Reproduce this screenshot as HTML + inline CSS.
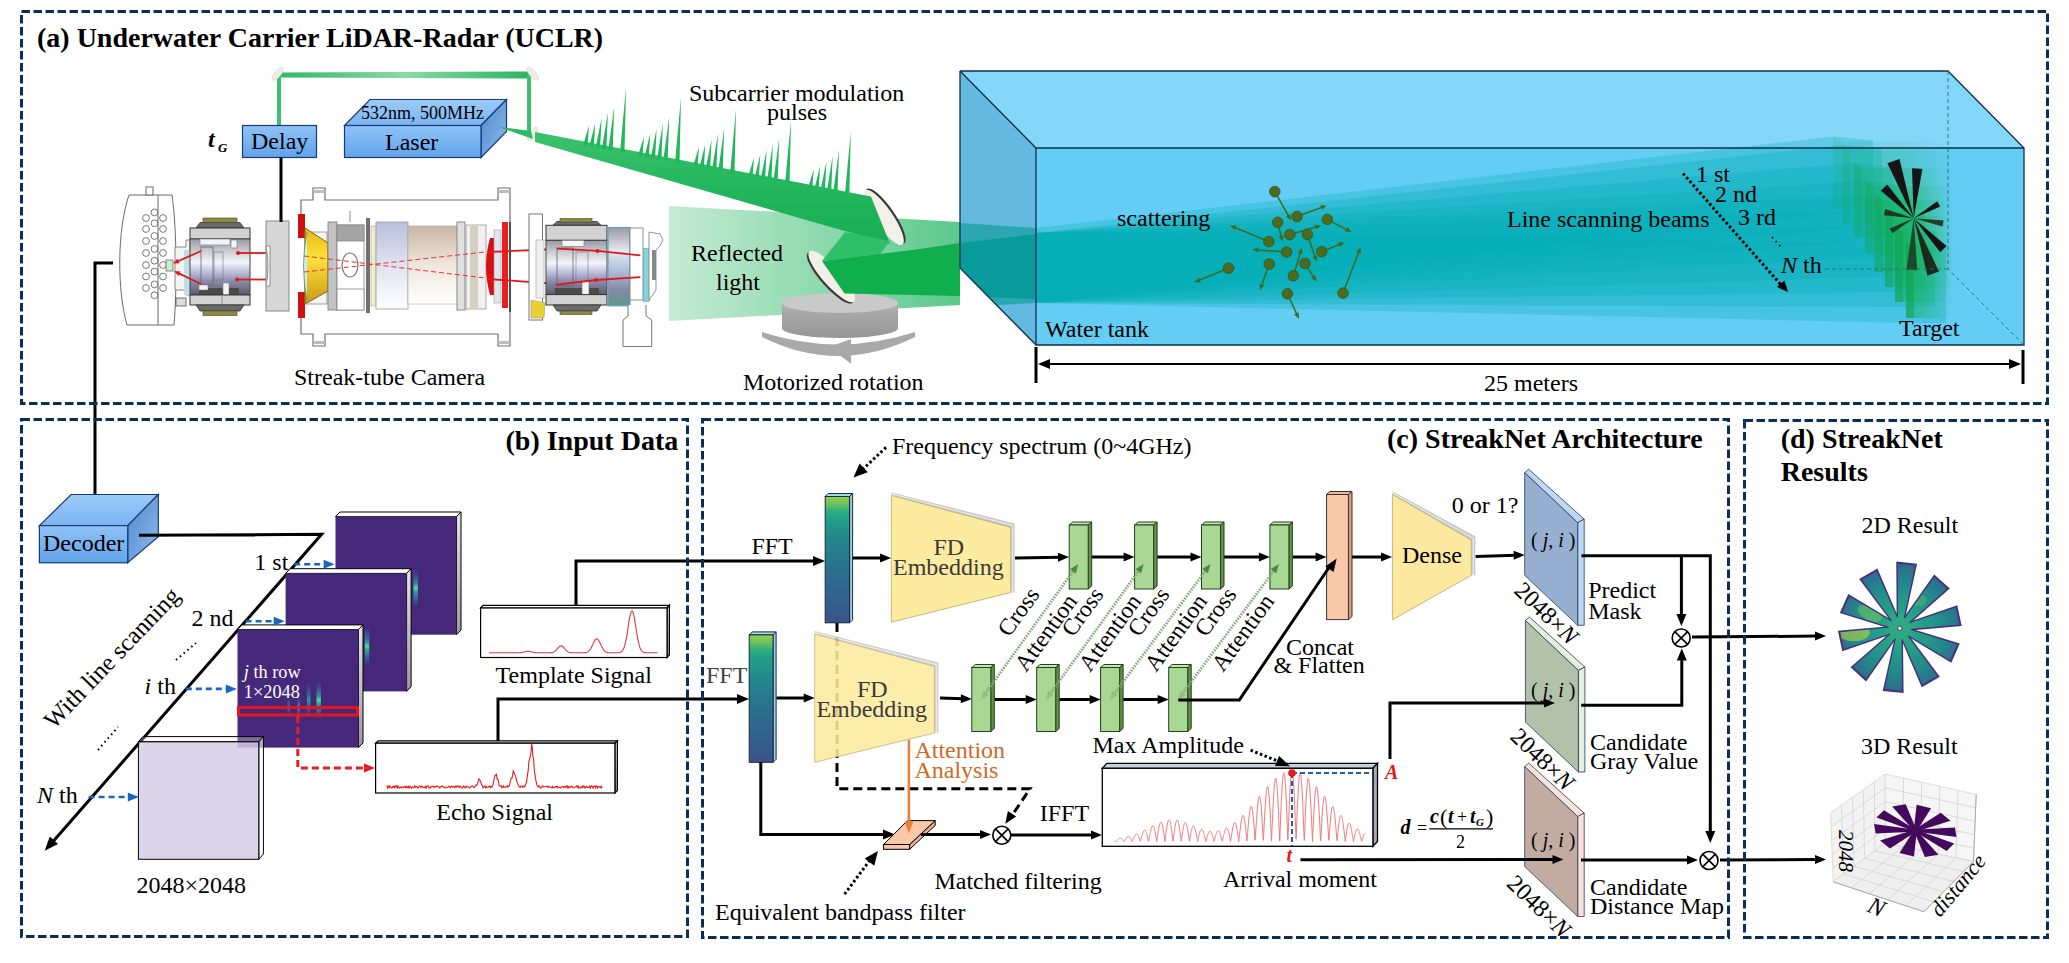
<!DOCTYPE html>
<html><head><meta charset="utf-8"><style>
html,body{margin:0;padding:0;background:#fff;width:2069px;height:963px;overflow:hidden;font-family:"Liberation Serif",serif;}
svg{display:block}
</style></head><body>
<svg width="2069" height="963" viewBox="0 0 2069 963">
<defs>
<linearGradient id="gReflect" x1="0" y1="0" x2="1" y2="0">
  <stop offset="0" stop-color="#c4ebd3"/><stop offset="1" stop-color="#5cc98c"/>
</linearGradient>
<linearGradient id="gBeam" x1="0" y1="0" x2="0" y2="1">
  <stop offset="0" stop-color="#3cc26e"/><stop offset="0.5" stop-color="#22b75c"/><stop offset="1" stop-color="#17ad52"/>
</linearGradient>
<linearGradient id="gLoop" x1="0" y1="0" x2="1" y2="0">
  <stop offset="0" stop-color="#2fb866"/><stop offset="0.5" stop-color="#8ad9a8"/><stop offset="1" stop-color="#2ab45e"/>
</linearGradient>
<linearGradient id="gBlueBox" x1="0" y1="0" x2="0" y2="1">
  <stop offset="0" stop-color="#8fc3f7"/><stop offset="1" stop-color="#63a3ea"/>
</linearGradient>
<linearGradient id="gBlueTop" x1="0" y1="0" x2="0" y2="1">
  <stop offset="0" stop-color="#9ccbf8"/><stop offset="1" stop-color="#7ab4f2"/>
</linearGradient>
<linearGradient id="gBlueSide" x1="0" y1="0" x2="1" y2="1">
  <stop offset="0" stop-color="#4d86c8"/><stop offset="1" stop-color="#8fbdf0"/>
</linearGradient>
<linearGradient id="gPlat" x1="0" y1="0" x2="0" y2="1">
  <stop offset="0" stop-color="#b0b0b0"/><stop offset="1" stop-color="#959595"/>
</linearGradient>
<linearGradient id="gCyl" x1="0" y1="0" x2="0" y2="1">
  <stop offset="0" stop-color="#9a9aa4"/><stop offset="0.2" stop-color="#c8c8d0"/><stop offset="0.42" stop-color="#f4f4fa"/><stop offset="0.55" stop-color="#c8cce4"/><stop offset="0.75" stop-color="#8c8cb0"/><stop offset="1" stop-color="#5a5a60"/>
</linearGradient>
<linearGradient id="gCyl2" x1="0" y1="0" x2="0" y2="1">
  <stop offset="0" stop-color="#9a9aa8"/><stop offset="0.3" stop-color="#e8e8f0"/><stop offset="0.5" stop-color="#b8c8e0"/><stop offset="0.8" stop-color="#8888a8"/><stop offset="1" stop-color="#5a9a88"/>
</linearGradient>
<linearGradient id="gCone" x1="0" y1="0" x2="0" y2="1">
  <stop offset="0" stop-color="#e8b810"/><stop offset="0.4" stop-color="#ffe040"/><stop offset="1" stop-color="#c89a10"/>
</linearGradient>
<linearGradient id="gBeige" x1="0" y1="0" x2="0" y2="1">
  <stop offset="0" stop-color="#c9b6a3"/><stop offset="0.5" stop-color="#efe6dc"/><stop offset="1" stop-color="#ffffff"/>
</linearGradient>
<linearGradient id="gBlueCyl" x1="0" y1="0" x2="0" y2="1">
  <stop offset="0" stop-color="#b8c0dc"/><stop offset="0.5" stop-color="#dfe3f2"/><stop offset="1" stop-color="#ffffff"/>
</linearGradient>
<linearGradient id="gInnerBeam" x1="0" y1="0" x2="0" y2="1">
  <stop offset="0" stop-color="#30bccb"/><stop offset="0.3" stop-color="#14b2bb"/><stop offset="0.7" stop-color="#0aadb5"/><stop offset="1" stop-color="#1ab3be"/>
</linearGradient>
<linearGradient id="gSlab" gradientUnits="userSpaceOnUse" x1="1833" y1="0" x2="1953" y2="0">
  <stop offset="0" stop-color="#18b45a" stop-opacity="1"/><stop offset="0.6" stop-color="#18b45a" stop-opacity="1"/><stop offset="1" stop-color="#18b45a" stop-opacity="0"/>
</linearGradient>

<linearGradient id="gSideGray" x1="0" y1="0" x2="0" y2="1">
  <stop offset="0" stop-color="#e6e6e6"/><stop offset="1" stop-color="#9a9a9a"/>
</linearGradient>
<linearGradient id="gStreak" x1="0" y1="0" x2="0" y2="1">
  <stop offset="0" stop-color="#3a6aa0" stop-opacity="0"/><stop offset="0.3" stop-color="#3a78a0" stop-opacity="0.8"/><stop offset="0.42" stop-color="#2aa890"/><stop offset="0.5" stop-color="#5ad89a"/><stop offset="0.6" stop-color="#2aa890"/><stop offset="0.8" stop-color="#3a78a0" stop-opacity="0.7"/><stop offset="1" stop-color="#3a6aa0" stop-opacity="0"/>
</linearGradient>
<linearGradient id="gStreak2" x1="0" y1="0" x2="0" y2="1">
  <stop offset="0" stop-color="#3a6aa0" stop-opacity="0"/><stop offset="0.35" stop-color="#3a70a0" stop-opacity="0.8"/><stop offset="0.5" stop-color="#2a9a9a"/><stop offset="0.7" stop-color="#3a70a0" stop-opacity="0.7"/><stop offset="1" stop-color="#3a6aa0" stop-opacity="0"/>
</linearGradient>

<linearGradient id="gViridis" x1="0" y1="0" x2="0" y2="1">
  <stop offset="0" stop-color="#8fd14f"/><stop offset="0.06" stop-color="#6cc35c"/><stop offset="0.11" stop-color="#35b07a"/><stop offset="0.16" stop-color="#22a386"/>
  <stop offset="0.32" stop-color="#23898c"/><stop offset="0.55" stop-color="#2a728e"/><stop offset="0.8" stop-color="#33608c"/><stop offset="1" stop-color="#3a548b"/>
</linearGradient>
<linearGradient id="gFD" x1="0" y1="0" x2="1" y2="0">
  <stop offset="0" stop-color="#fdeb9f"/><stop offset="1" stop-color="#fdeea6"/>
</linearGradient>

<radialGradient id="gStar" gradientUnits="userSpaceOnUse" cx="1899.8" cy="628.3" r="66">
  <stop offset="0" stop-color="#35b279"/><stop offset="0.3" stop-color="#24a286"/><stop offset="0.7" stop-color="#22888c"/><stop offset="1" stop-color="#33638d"/>
</radialGradient>
<linearGradient id="gPane" x1="0" y1="0" x2="1" y2="1">
  <stop offset="0" stop-color="#f4f4f4"/><stop offset="1" stop-color="#e6e6e6"/>
</linearGradient>
</defs>
<rect width="2069" height="963" fill="#fff"/>
<text x="37" y="47" font-family="'Liberation Serif', serif" font-size="28" font-weight="bold" font-style="normal" fill="#000" text-anchor="start" >(a) Underwater Carrier LiDAR-Radar (UCLR)</text><polygon points="279.0,72.5 531.0,71.5 531.0,78.5 279.0,77.5" fill="url(#gLoop)" stroke="none" stroke-width="1" /><rect x="277" y="75" width="4" height="50" fill="#3cc070" stroke="none" stroke-width="1" /><rect x="527" y="75" width="4" height="61" fill="#3cc070" stroke="none" stroke-width="1" /><g transform="translate(277.7 73.8) rotate(-50)"><ellipse cx="0" cy="0" rx="8" ry="3.2" fill="#efebe5" stroke="#d8d4ce" stroke-width="0.6"/></g><g transform="translate(532.6 73.8) rotate(50)"><ellipse cx="0" cy="0" rx="8" ry="3.2" fill="#efebe5" stroke="#d8d4ce" stroke-width="0.6"/></g><g transform="translate(532.6 134) rotate(-55)"><ellipse cx="0" cy="0" rx="8" ry="3.2" fill="#efebe5" stroke="#d8d4ce" stroke-width="0.6"/></g><rect x="242.5" y="125.5" width="74" height="32" fill="url(#gBlueBox)" stroke="#173a78" stroke-width="1.2" /><text x="251" y="149" font-family="'Liberation Serif', serif" font-size="24" font-weight="normal" font-style="normal" fill="#000" text-anchor="start" >Delay</text><text x="208" y="147" font-family="'Liberation Serif', serif" font-size="24" font-weight="bold" font-style="italic" fill="#000" text-anchor="start" >t</text><text x="218" y="152" font-family="'Liberation Serif', serif" font-size="13" font-weight="bold" font-style="italic" fill="#000" text-anchor="start" >G</text><polygon points="344.5,125.5 370.0,99.5 506.5,99.5 481.0,125.5" fill="url(#gBlueTop)" stroke="#173a78" stroke-width="1.2" /><polygon points="481.0,125.5 506.5,99.5 506.5,131.5 481.0,157.5" fill="url(#gBlueSide)" stroke="#173a78" stroke-width="1.2" /><rect x="344.5" y="125.5" width="136.5" height="32" fill="url(#gBlueBox)" stroke="#173a78" stroke-width="1.2" /><text x="361" y="118.5" font-family="'Liberation Serif', serif" font-size="18" font-weight="normal" font-style="normal" fill="#000" text-anchor="start" >532nm, 500MHz</text><text x="385" y="149.5" font-family="'Liberation Serif', serif" font-size="24" font-weight="normal" font-style="normal" fill="#000" text-anchor="start" >Laser</text><polygon points="497.0,126.5 531.0,131.0 533.0,139.0" fill="#2fb866" stroke="none" stroke-width="1" /><polygon points="669.0,206.0 960.0,222.0 960.0,305.0 669.0,321.0" fill="url(#gReflect)" stroke="none" stroke-width="1" /><path d="M782,303 L782,328 A58,10 0 0 0 898,328 L898,303 Z" fill="url(#gPlat)"/><ellipse cx="840" cy="303" rx="58" ry="10" fill="#c9c9c9"/><path d="M762,337 Q838,375 915,337 L915,332 Q838,357 762,332 Z" fill="#a9a9a9"/><polygon points="829.0,347.0 851.0,339.0 851.0,363.7" fill="#a9a9a9" stroke="none" stroke-width="1" /><g transform="translate(883.7 217.4) rotate(55.4)"><ellipse cx="0" cy="-2.2" rx="33" ry="9" fill="#3a3a3a"/><ellipse cx="0" cy="0" rx="33" ry="9" fill="#f3efe9"/></g><g transform="translate(831.7 276.5) rotate(48.3)"><ellipse cx="0" cy="2.2" rx="33.5" ry="9" fill="#3a3a3a"/><ellipse cx="0" cy="0" rx="33.5" ry="9" fill="#f3efe9"/></g><polygon points="535.0,132.0 871.0,196.5 890.0,244.0 535.0,142.0" fill="url(#gBeam)" stroke="none" stroke-width="1" /><polygon points="589.0,125.6 583.0,145.4 587.5,145.4" fill="#22b75c" stroke="none" stroke-width="1" /><polygon points="595.3,122.8 589.3,146.6 593.8,146.6" fill="#22b75c" stroke="none" stroke-width="1" /><polygon points="601.6,118.1 595.6,147.8 600.1,147.8" fill="#22b75c" stroke="none" stroke-width="1" /><polygon points="607.9,112.3 601.9,149.0 606.4,149.0" fill="#22b75c" stroke="none" stroke-width="1" /><polygon points="614.2,106.5 608.2,150.2 612.7,150.2" fill="#22b75c" stroke="none" stroke-width="1" /><polygon points="626.0,87.6 620.0,152.5 624.5,152.5" fill="#22b75c" stroke="none" stroke-width="1" /><polygon points="644.0,136.2 638.0,156.0 642.5,156.0" fill="#22b75c" stroke="none" stroke-width="1" /><polygon points="650.3,133.4 644.3,157.2 648.8,157.2" fill="#22b75c" stroke="none" stroke-width="1" /><polygon points="656.6,128.6 650.6,158.4 655.1,158.4" fill="#22b75c" stroke="none" stroke-width="1" /><polygon points="662.9,122.9 656.9,159.6 661.4,159.6" fill="#22b75c" stroke="none" stroke-width="1" /><polygon points="669.2,117.1 663.2,160.8 667.7,160.8" fill="#22b75c" stroke="none" stroke-width="1" /><polygon points="681.0,97.0 675.0,163.1 679.5,163.1" fill="#22b75c" stroke="none" stroke-width="1" /><polygon points="699.0,146.8 693.0,166.6 697.5,166.6" fill="#22b75c" stroke="none" stroke-width="1" /><polygon points="705.3,144.0 699.3,167.8 703.8,167.8" fill="#22b75c" stroke="none" stroke-width="1" /><polygon points="711.6,139.2 705.6,169.0 710.1,169.0" fill="#22b75c" stroke="none" stroke-width="1" /><polygon points="717.9,133.4 711.9,170.2 716.4,170.2" fill="#22b75c" stroke="none" stroke-width="1" /><polygon points="724.2,127.7 718.2,171.4 722.7,171.4" fill="#22b75c" stroke="none" stroke-width="1" /><polygon points="736.0,109.0 730.0,173.7 734.5,173.7" fill="#22b75c" stroke="none" stroke-width="1" /><polygon points="754.0,157.4 748.0,177.2 752.5,177.2" fill="#22b75c" stroke="none" stroke-width="1" /><polygon points="760.3,154.6 754.3,178.4 758.8,178.4" fill="#22b75c" stroke="none" stroke-width="1" /><polygon points="766.6,149.8 760.6,179.6 765.1,179.6" fill="#22b75c" stroke="none" stroke-width="1" /><polygon points="772.9,144.0 766.9,180.8 771.4,180.8" fill="#22b75c" stroke="none" stroke-width="1" /><polygon points="779.2,138.2 773.2,182.0 777.7,182.0" fill="#22b75c" stroke="none" stroke-width="1" /><polygon points="791.0,120.0 785.0,184.3 789.5,184.3" fill="#22b75c" stroke="none" stroke-width="1" /><polygon points="813.8,168.9 807.8,188.7 812.3,188.7" fill="#22b75c" stroke="none" stroke-width="1" /><polygon points="820.1,166.1 814.1,189.9 818.6,189.9" fill="#22b75c" stroke="none" stroke-width="1" /><polygon points="826.4,161.3 820.4,191.1 824.9,191.1" fill="#22b75c" stroke="none" stroke-width="1" /><polygon points="832.7,155.5 826.7,192.3 831.2,192.3" fill="#22b75c" stroke="none" stroke-width="1" /><polygon points="839.0,149.8 833.0,193.5 837.5,193.5" fill="#22b75c" stroke="none" stroke-width="1" /><polygon points="850.8,131.8 844.8,195.8 849.3,195.8" fill="#22b75c" stroke="none" stroke-width="1" /><polygon points="845.0,232.0 890.0,241.0 880.0,254.0 822.0,261.0" fill="#2fbf68" stroke="none" stroke-width="1" /><polygon points="822.0,261.0 920.0,249.0 960.0,243.0 960.0,296.0 844.5,293.4" fill="#10ae4d" stroke="none" stroke-width="1" /><polygon points="960.0,71.0 1948.0,71.0 2024.0,148.0 1036.0,148.0" fill="#85d7f9" stroke="none" stroke-width="1" /><polygon points="1036.0,148.0 2024.0,148.0 2024.0,345.0 1036.0,345.0" fill="#63cdf4" stroke="none" stroke-width="1" /><polygon points="1036.0,228.0 1833.0,136.5 1873.0,140.5 1873.0,213.5 1833.0,213.5 1036.0,303.0" fill="#00acb4" stroke="none" stroke-width="1" fill-opacity="0.28"/><polygon points="1036.0,233.0 1842.0,145.0 1882.0,149.0 1882.0,229.0 1842.0,229.0 1036.0,303.0" fill="#00acb4" stroke="none" stroke-width="1" fill-opacity="0.28"/><polygon points="1036.0,233.0 1854.0,163.0 1894.0,167.0 1894.0,242.0 1854.0,242.0 1036.0,303.0" fill="#00acb4" stroke="none" stroke-width="1" fill-opacity="0.28"/><polygon points="1036.0,233.0 1865.0,181.0 1905.0,185.0 1905.0,258.0 1865.0,258.0 1036.0,303.0" fill="#00acb4" stroke="none" stroke-width="1" fill-opacity="0.28"/><polygon points="1036.0,233.0 1874.5,195.0 1914.5,199.0 1914.5,277.0 1874.5,277.0 1036.0,303.0" fill="#00acb4" stroke="none" stroke-width="1" fill-opacity="0.28"/><polygon points="1036.0,233.0 1885.0,211.0 1925.0,215.0 1925.0,292.0 1885.0,292.0 1036.0,303.0" fill="#00acb4" stroke="none" stroke-width="1" fill-opacity="0.28"/><polygon points="1036.0,233.0 1895.0,227.0 1935.0,231.0 1935.0,307.0 1895.0,307.0 1036.0,303.0" fill="#00acb4" stroke="none" stroke-width="1" fill-opacity="0.28"/><polygon points="1036.0,233.0 1906.0,243.0 1946.0,247.0 1946.0,323.0 1906.0,323.0 1036.0,303.0" fill="#00acb4" stroke="none" stroke-width="1" fill-opacity="0.28"/><polygon points="960.0,71.0 1036.0,148.0 1036.0,345.0 960.0,268.0" fill="#64b9de" stroke="none" stroke-width="1" /><polygon points="960.0,223.0 1036.0,228.0 1036.0,303.0 960.0,307.0" fill="#2aa7b0" stroke="none" stroke-width="1" /><polygon points="960.0,243.0 1036.0,234.0 1036.0,299.0 960.0,296.0" fill="#099b9c" stroke="none" stroke-width="1" /><polygon points="960.0,268.0 1036.0,345.0 960.0,345.0" fill="#fff" stroke="none" stroke-width="1" /><polygon points="1833.0,136.5 1841.0,141.5 1953.0,141.5 1953.0,208.5 1833.0,208.5" fill="url(#gSlab)" stroke="none" stroke-width="1" opacity="0.10"/><polygon points="1833.0,136.5 1841.0,141.5 1841.0,208.5 1833.0,208.5" fill="#0c8a40" stroke="none" stroke-width="1" opacity="0.05"/><polygon points="1842.0,145.0 1850.0,150.0 1953.0,150.0 1953.0,224.0 1842.0,224.0" fill="url(#gSlab)" stroke="none" stroke-width="1" opacity="0.17"/><polygon points="1842.0,145.0 1850.0,150.0 1850.0,224.0 1842.0,224.0" fill="#0c8a40" stroke="none" stroke-width="1" opacity="0.09"/><polygon points="1854.0,163.0 1862.0,168.0 1953.0,168.0 1953.0,237.0 1854.0,237.0" fill="url(#gSlab)" stroke="none" stroke-width="1" opacity="0.25"/><polygon points="1854.0,163.0 1862.0,168.0 1862.0,237.0 1854.0,237.0" fill="#0c8a40" stroke="none" stroke-width="1" opacity="0.12"/><polygon points="1865.0,181.0 1873.0,186.0 1953.0,186.0 1953.0,253.0 1865.0,253.0" fill="url(#gSlab)" stroke="none" stroke-width="1" opacity="0.32"/><polygon points="1865.0,181.0 1873.0,186.0 1873.0,253.0 1865.0,253.0" fill="#0c8a40" stroke="none" stroke-width="1" opacity="0.16"/><polygon points="1874.5,195.0 1882.5,200.0 1953.0,200.0 1953.0,272.0 1874.5,272.0" fill="url(#gSlab)" stroke="none" stroke-width="1" opacity="0.40"/><polygon points="1874.5,195.0 1882.5,200.0 1882.5,272.0 1874.5,272.0" fill="#0c8a40" stroke="none" stroke-width="1" opacity="0.20"/><polygon points="1885.0,211.0 1893.0,216.0 1953.0,216.0 1953.0,287.0 1885.0,287.0" fill="url(#gSlab)" stroke="none" stroke-width="1" opacity="0.47"/><polygon points="1885.0,211.0 1893.0,216.0 1893.0,287.0 1885.0,287.0" fill="#0c8a40" stroke="none" stroke-width="1" opacity="0.24"/><polygon points="1895.0,227.0 1903.0,232.0 1953.0,232.0 1953.0,302.0 1895.0,302.0" fill="url(#gSlab)" stroke="none" stroke-width="1" opacity="0.55"/><polygon points="1895.0,227.0 1903.0,232.0 1903.0,302.0 1895.0,302.0" fill="#0c8a40" stroke="none" stroke-width="1" opacity="0.27"/><polygon points="1906.0,243.0 1914.0,248.0 1953.0,248.0 1953.0,318.0 1906.0,318.0" fill="url(#gSlab)" stroke="none" stroke-width="1" opacity="0.62"/><polygon points="1906.0,243.0 1914.0,248.0 1914.0,318.0 1906.0,318.0" fill="#0c8a40" stroke="none" stroke-width="1" opacity="0.31"/><polygon points="1913.7,218.3 1899.5,159.0 1887.4,163.2" fill="#151515" stroke="none" stroke-width="1" /><polygon points="1913.7,218.3 1922.4,169.1 1912.0,168.3" fill="#151515" stroke="none" stroke-width="1" /><polygon points="1913.7,218.3 1940.2,206.5 1937.2,201.3" fill="#151515" stroke="none" stroke-width="1" /><polygon points="1913.7,218.3 1942.5,226.6 1943.6,220.4" fill="#2a3a2a" stroke="none" stroke-width="1" /><polygon points="1913.7,218.3 1940.2,252.2 1946.6,245.9" fill="#151515" stroke="none" stroke-width="1" /><polygon points="1913.7,218.3 1927.4,275.7 1939.0,271.6" fill="#1c2a1c" stroke="none" stroke-width="1" /><polygon points="1913.7,218.3 1906.5,269.8 1917.3,270.2" fill="#1a4a2a" stroke="none" stroke-width="1" /><polygon points="1913.7,218.3 1889.8,228.5 1892.4,233.2" fill="#1a3a22" stroke="none" stroke-width="1" /><polygon points="1913.7,218.3 1885.2,209.0 1883.9,215.2" fill="#1a3a22" stroke="none" stroke-width="1" /><polygon points="1913.7,218.3 1887.2,184.4 1880.8,190.7" fill="#151515" stroke="none" stroke-width="1" /><polygon points="1830.0,130.0 1930.0,130.0 1948.0,148.0 1830.0,148.0" fill="none" stroke="none" stroke-width="1" /><polyline points="960.0,71.0 1948.0,71.0 2024.0,148.0 2024.0,345.0 1036.0,345.0 960.0,268.0 960.0,71.0" fill="none" stroke="#122e4c" stroke-width="1.3" /><polyline points="960.0,71.0 1036.0,148.0 2024.0,148.0" fill="none" stroke="#122e4c" stroke-width="1.3" /><line x1="1036" y1="148" x2="1036" y2="345" stroke="#122e4c" stroke-width="1.3" /><polyline points="1948.0,71.0 1948.0,269.0 2024.0,345.0" fill="none" stroke="#2a6a8a" stroke-width="0.9" stroke-dasharray="4,3"/><line x1="1825" y1="269" x2="1948" y2="269" stroke="#2a6a8a" stroke-width="0.9" stroke-dasharray="4,3"/><polyline points="1274.8,191.6 1288.7,216.4" fill="none" stroke="#3f6a1e" stroke-width="1.5" /><polygon points="1291.0,220.6 1285.9,216.6 1290.3,214.1" fill="#3f6a1e" stroke="none" stroke-width="1" /><polyline points="1297.0,216.5 1322.3,207.1" fill="none" stroke="#3f6a1e" stroke-width="1.5" /><polygon points="1326.8,205.4 1322.1,209.8 1320.3,205.2" fill="#3f6a1e" stroke="none" stroke-width="1" /><polyline points="1327.3,219.4 1347.1,229.8" fill="none" stroke="#3f6a1e" stroke-width="1.5" /><polygon points="1351.4,232.0 1344.9,231.4 1347.2,227.0" fill="#3f6a1e" stroke="none" stroke-width="1" /><polyline points="1277.7,222.3 1281.3,236.9" fill="none" stroke="#3f6a1e" stroke-width="1.5" /><polygon points="1282.5,241.6 1278.6,236.4 1283.5,235.2" fill="#3f6a1e" stroke="none" stroke-width="1" /><polyline points="1289.8,234.6 1316.6,226.8" fill="none" stroke="#3f6a1e" stroke-width="1.5" /><polygon points="1321.2,225.5 1316.1,229.6 1314.7,224.8" fill="#3f6a1e" stroke="none" stroke-width="1" /><polyline points="1307.4,234.4 1315.2,257.2" fill="none" stroke="#3f6a1e" stroke-width="1.5" /><polygon points="1316.8,261.7 1312.5,256.8 1317.2,255.2" fill="#3f6a1e" stroke="none" stroke-width="1" /><polyline points="1268.8,241.6 1234.4,227.3" fill="none" stroke="#3f6a1e" stroke-width="1.5" /><polygon points="1230.0,225.5 1236.5,225.5 1234.6,230.1" fill="#3f6a1e" stroke="none" stroke-width="1" /><polyline points="1286.6,252.0 1257.1,249.9" fill="none" stroke="#3f6a1e" stroke-width="1.5" /><polygon points="1252.3,249.6 1258.5,247.5 1258.1,252.5" fill="#3f6a1e" stroke="none" stroke-width="1" /><polyline points="1321.7,251.6 1340.1,244.2" fill="none" stroke="#3f6a1e" stroke-width="1.5" /><polygon points="1344.6,242.4 1340.0,247.0 1338.1,242.3" fill="#3f6a1e" stroke="none" stroke-width="1" /><polyline points="1269.2,264.1 1261.6,285.5" fill="none" stroke="#3f6a1e" stroke-width="1.5" /><polygon points="1260.0,290.0 1259.7,283.5 1264.4,285.2" fill="#3f6a1e" stroke="none" stroke-width="1" /><polyline points="1305.0,263.4 1313.8,277.4" fill="none" stroke="#3f6a1e" stroke-width="1.5" /><polygon points="1316.4,281.5 1311.1,277.8 1315.3,275.1" fill="#3f6a1e" stroke="none" stroke-width="1" /><polyline points="1293.4,275.7 1300.5,252.3" fill="none" stroke="#3f6a1e" stroke-width="1.5" /><polygon points="1301.9,247.7 1302.5,254.2 1297.8,252.7" fill="#3f6a1e" stroke="none" stroke-width="1" /><polyline points="1228.6,268.2 1198.7,280.4" fill="none" stroke="#3f6a1e" stroke-width="1.5" /><polygon points="1194.3,282.2 1198.9,277.6 1200.8,282.2" fill="#3f6a1e" stroke="none" stroke-width="1" /><polyline points="1287.4,293.8 1297.0,314.6" fill="none" stroke="#3f6a1e" stroke-width="1.5" /><polygon points="1299.0,319.0 1294.2,314.6 1298.8,312.5" fill="#3f6a1e" stroke="none" stroke-width="1" /><polyline points="1343.0,293.1 1358.9,251.7" fill="none" stroke="#3f6a1e" stroke-width="1.5" /><polygon points="1360.6,247.2 1360.8,253.7 1356.1,251.9" fill="#3f6a1e" stroke="none" stroke-width="1" /><circle cx="1274.8" cy="191.6" r="5.3" fill="#4a6b20" stroke="#3a5518" stroke-width="0.8"/><circle cx="1297" cy="216.5" r="5.3" fill="#4a6b20" stroke="#3a5518" stroke-width="0.8"/><circle cx="1327.3" cy="219.4" r="5.3" fill="#4a6b20" stroke="#3a5518" stroke-width="0.8"/><circle cx="1277.7" cy="222.3" r="5.3" fill="#4a6b20" stroke="#3a5518" stroke-width="0.8"/><circle cx="1289.8" cy="234.6" r="5.3" fill="#4a6b20" stroke="#3a5518" stroke-width="0.8"/><circle cx="1307.4" cy="234.4" r="5.3" fill="#4a6b20" stroke="#3a5518" stroke-width="0.8"/><circle cx="1268.8" cy="241.6" r="5.3" fill="#4a6b20" stroke="#3a5518" stroke-width="0.8"/><circle cx="1286.6" cy="252" r="5.3" fill="#4a6b20" stroke="#3a5518" stroke-width="0.8"/><circle cx="1321.7" cy="251.6" r="5.3" fill="#4a6b20" stroke="#3a5518" stroke-width="0.8"/><circle cx="1269.2" cy="264.1" r="5.3" fill="#4a6b20" stroke="#3a5518" stroke-width="0.8"/><circle cx="1305" cy="263.4" r="5.3" fill="#4a6b20" stroke="#3a5518" stroke-width="0.8"/><circle cx="1293.4" cy="275.7" r="5.3" fill="#4a6b20" stroke="#3a5518" stroke-width="0.8"/><circle cx="1228.6" cy="268.2" r="5.3" fill="#4a6b20" stroke="#3a5518" stroke-width="0.8"/><circle cx="1287.4" cy="293.8" r="5.3" fill="#4a6b20" stroke="#3a5518" stroke-width="0.8"/><circle cx="1343" cy="293.1" r="5.3" fill="#4a6b20" stroke="#3a5518" stroke-width="0.8"/><line x1="1683" y1="173.5" x2="1782" y2="286" stroke="#000" stroke-width="3" stroke-dasharray="2.5,2.5"/><polygon points="1788.0,292.0 1777.0,287.0 1784.5,280.4" fill="#000" stroke="none" stroke-width="1" /><line x1="1772" y1="237" x2="1782" y2="248" stroke="#000" stroke-width="1.8" stroke-dasharray="1.5,4"/><path d="M129,195 L172,195 C177,230 177,290 174,325 L127,325 C117,290 117,230 129,195 Z" fill="#fff" stroke="#6a6a6a" stroke-width="1"/><rect x="146" y="187" width="7" height="8" fill="#fff" stroke="#6a6a6a" stroke-width="1" /><line x1="158" y1="195" x2="158" y2="325" stroke="#6a6a6a" stroke-width="1" /><circle cx="154.5" cy="212.4" r="3.4" fill="none" stroke="#6a6a6a" stroke-width="0.9"/><circle cx="154.5" cy="223.3" r="3.4" fill="none" stroke="#6a6a6a" stroke-width="0.9"/><circle cx="154.5" cy="236" r="3.4" fill="none" stroke="#6a6a6a" stroke-width="0.9"/><circle cx="154.5" cy="248.9" r="3.4" fill="none" stroke="#6a6a6a" stroke-width="0.9"/><circle cx="154.5" cy="260.7" r="3.4" fill="none" stroke="#6a6a6a" stroke-width="0.9"/><circle cx="154.5" cy="271.6" r="3.4" fill="none" stroke="#6a6a6a" stroke-width="0.9"/><circle cx="154.5" cy="284.4" r="3.4" fill="none" stroke="#6a6a6a" stroke-width="0.9"/><circle cx="154.5" cy="295.2" r="3.4" fill="none" stroke="#6a6a6a" stroke-width="0.9"/><circle cx="146" cy="218" r="3.4" fill="none" stroke="#6a6a6a" stroke-width="0.9"/><circle cx="163" cy="218" r="3.4" fill="none" stroke="#6a6a6a" stroke-width="0.9"/><circle cx="146" cy="229" r="3.4" fill="none" stroke="#6a6a6a" stroke-width="0.9"/><circle cx="163" cy="229" r="3.4" fill="none" stroke="#6a6a6a" stroke-width="0.9"/><circle cx="146" cy="241" r="3.4" fill="none" stroke="#6a6a6a" stroke-width="0.9"/><circle cx="163" cy="241" r="3.4" fill="none" stroke="#6a6a6a" stroke-width="0.9"/><circle cx="146" cy="253" r="3.4" fill="none" stroke="#6a6a6a" stroke-width="0.9"/><circle cx="163" cy="253" r="3.4" fill="none" stroke="#6a6a6a" stroke-width="0.9"/><circle cx="146" cy="265" r="3.4" fill="none" stroke="#6a6a6a" stroke-width="0.9"/><circle cx="163" cy="265" r="3.4" fill="none" stroke="#6a6a6a" stroke-width="0.9"/><circle cx="146" cy="276.5" r="3.4" fill="none" stroke="#6a6a6a" stroke-width="0.9"/><circle cx="163" cy="276.5" r="3.4" fill="none" stroke="#6a6a6a" stroke-width="0.9"/><circle cx="146" cy="288" r="3.4" fill="none" stroke="#6a6a6a" stroke-width="0.9"/><circle cx="163" cy="288" r="3.4" fill="none" stroke="#6a6a6a" stroke-width="0.9"/><path d="M175,247 L186,247 L186,240 L190,240 L190,295 L186,295 L186,290 L175,290 Z" fill="#f4f4f4" stroke="#6a6a6a" stroke-width="0.8"/><rect x="184" y="250" width="6" height="45" fill="#bfe0e4" stroke="none" stroke-width="1" /><rect x="166" y="260" width="7" height="11" fill="#c8f0c8" stroke="#6a6a6a" stroke-width="0.8" /><polygon points="196.0,228.0 200.0,222.5 240.0,222.5 244.0,228.0" fill="#6a6a6a" stroke="#333" stroke-width="0.8" /><rect x="203" y="218" width="34" height="4.5" fill="#8c8c3c" stroke="#444" stroke-width="0.6" /><rect x="190" y="228" width="60" height="11" fill="#d2d2d2" stroke="#333" stroke-width="1" /><rect x="190" y="239" width="60" height="56" fill="url(#gCyl)" stroke="#444" stroke-width="1" /><rect x="200" y="239" width="30" height="6" fill="#f4f4f4" stroke="#777" stroke-width="0.6" /><rect x="231" y="240" width="6" height="8" fill="#f4f4f4" stroke="#777" stroke-width="0.6" /><rect x="201" y="247" width="12" height="38" fill="none" stroke="#666" stroke-width="0.8" /><rect x="214" y="252" width="9" height="28" fill="none" stroke="#777" stroke-width="0.6" /><rect x="199" y="288" width="40" height="7" fill="#4a4a4a" stroke="none" stroke-width="1" /><rect x="199" y="285" width="9" height="5" fill="#f4f4f4" stroke="#777" stroke-width="0.5" /><rect x="223" y="283" width="6" height="12" fill="#f4f4f4" stroke="#777" stroke-width="0.5" /><rect x="190" y="295" width="60" height="10" fill="#d2d2d2" stroke="#333" stroke-width="1" /><line x1="222" y1="295" x2="222" y2="305" stroke="#888" stroke-width="0.8" /><polygon points="196.0,305.0 200.0,311.0 240.0,311.0 244.0,305.0" fill="#6a6a6a" stroke="#333" stroke-width="0.8" /><rect x="203" y="311" width="34" height="4.5" fill="#8c8c3c" stroke="#444" stroke-width="0.6" /><rect x="176" y="298" width="10" height="8" fill="#ddd" stroke="#555" stroke-width="0.8" /><polyline points="201.0,251.0 177.4,261.5" fill="none" stroke="#e01818" stroke-width="1.8" /><polygon points="173.0,263.5 177.5,258.8 179.5,263.3" fill="#e01818" stroke="none" stroke-width="1" /><polyline points="201.0,284.0 178.3,273.1" fill="none" stroke="#e01818" stroke-width="1.8" /><polygon points="174.0,271.0 180.5,271.4 178.3,275.9" fill="#e01818" stroke="none" stroke-width="1" /><line x1="238" y1="253" x2="266" y2="253" stroke="#e01818" stroke-width="1.8" /><line x1="238" y1="279.5" x2="266" y2="279.5" stroke="#e01818" stroke-width="1.8" /><circle cx="238" cy="253" r="2" fill="#e01818"/><circle cx="237" cy="279.5" r="2" fill="#e01818"/><rect x="266" y="221" width="23" height="90" fill="#d6d6d6" stroke="#8a8a8a" stroke-width="1" /><path d="M266,246 Q270,266 266,286 L270,286 L270,246 Z" fill="#fff" stroke="#777" stroke-width="0.8"/><polyline points="301.0,218.0 301.0,200.0 313.0,200.0 313.0,188.0 325.0,188.0 325.0,200.0 498.0,200.0 498.0,188.0 510.0,188.0 510.0,346.0 498.0,346.0 498.0,334.0 325.0,334.0 325.0,346.0 313.0,346.0 313.0,334.0 301.0,334.0 301.0,316.0" fill="#fff" stroke="#707070" stroke-width="1.2" /><rect x="498" y="190" width="12" height="3" fill="#bbb" stroke="none" stroke-width="1" /><rect x="313" y="190" width="12" height="3" fill="#bbb" stroke="none" stroke-width="1" /><rect x="313" y="341" width="12" height="3" fill="#bbb" stroke="none" stroke-width="1" /><rect x="498" y="341" width="12" height="3" fill="#bbb" stroke="none" stroke-width="1" /><rect x="298" y="214" width="7" height="24" fill="#d01010" stroke="none" stroke-width="1" /><rect x="298" y="292" width="7" height="26" fill="#d01010" stroke="none" stroke-width="1" /><rect x="305" y="232" width="22" height="72" fill="#f4f4f4" stroke="#888" stroke-width="0.8" /><polygon points="305.0,228.0 328.0,243.0 328.0,291.0 305.0,304.0" fill="url(#gCone)" stroke="#7a6a10" stroke-width="1" /><path d="M307,232 Q300,266 307,300" fill="#c8f0e0" stroke="#5a8a70" stroke-width="0.8"/><rect x="328" y="222" width="9" height="88" fill="#c4c4c4" stroke="#777" stroke-width="0.8" /><rect x="337" y="225" width="27" height="85" fill="#fff" stroke="#888" stroke-width="0.8" /><rect x="337" y="225" width="27" height="16" fill="#a4a4a4" stroke="#888" stroke-width="0.8" /><rect x="337" y="289" width="27" height="21" fill="#fff" stroke="#888" stroke-width="0.8" /><ellipse cx="350" cy="265" rx="8" ry="12" fill="none" stroke="#777" stroke-width="1.2"/><line x1="350" y1="211" x2="350" y2="222" stroke="#888" stroke-width="1" /><rect x="366" y="218" width="4" height="95" fill="#707070" stroke="none" stroke-width="1" /><rect x="371" y="226" width="5" height="80" fill="#f0ecc8" stroke="#aaa" stroke-width="0.6" /><rect x="376" y="222" width="32" height="87" fill="url(#gBlueCyl)" stroke="#999" stroke-width="0.8" /><rect x="408" y="226" width="50" height="78" fill="url(#gBeige)" stroke="#aaa" stroke-width="0.6" /><rect x="457" y="222" width="8" height="88" fill="#e0e0e0" stroke="#888" stroke-width="1" /><rect x="466" y="225" width="20" height="84" fill="#f0f0f0" stroke="#999" stroke-width="0.8" /><rect x="470" y="225" width="8" height="84" fill="#d8cfc4" stroke="none" stroke-width="1" /><path d="M490,238 Q482,266 490,295 L494,295 L494,238 Z" fill="#d81010"/><rect x="494" y="230" width="7" height="73" fill="#dde6f0" stroke="#999" stroke-width="0.6" /><rect x="502" y="222" width="6" height="86" fill="#e82020" stroke="none" stroke-width="1" /><line x1="510" y1="222" x2="510" y2="312" stroke="#111" stroke-width="1.2" /><line x1="304" y1="256" x2="485" y2="278" stroke="#e83030" stroke-width="1" stroke-dasharray="5,3"/><line x1="304" y1="272" x2="485" y2="252" stroke="#e83030" stroke-width="1" stroke-dasharray="5,3"/><line x1="488" y1="252" x2="557" y2="249" stroke="#e01818" stroke-width="1.8" /><line x1="488" y1="279" x2="557" y2="284" stroke="#e01818" stroke-width="1.8" /><rect x="529" y="214" width="13.5" height="106" fill="#fff" stroke="#777" stroke-width="1" /><rect x="536" y="240" width="8" height="58" fill="#f0f0f0" stroke="#999" stroke-width="0.6" /><path d="M531,300 L545,303 L544,318 L531,318 Z" fill="#e8d030" stroke="#999" stroke-width="0.6"/><polygon points="553.0,225.3 557.0,221.5 597.0,221.5 601.0,225.3" fill="#6a6a6a" stroke="#333" stroke-width="0.8" /><rect x="560" y="218.5" width="32" height="3.5" fill="#8c8c3c" stroke="#444" stroke-width="0.6" /><rect x="546" y="225.3" width="61" height="15" fill="#d2d2d2" stroke="#333" stroke-width="1" /><rect x="546" y="240.4" width="61" height="54.2" fill="url(#gCyl)" stroke="#444" stroke-width="1" /><rect x="562" y="240.4" width="22" height="6" fill="#f4f4f4" stroke="#777" stroke-width="0.6" /><rect x="557" y="248" width="16" height="38" fill="none" stroke="#666" stroke-width="0.8" /><rect x="576" y="252" width="12" height="30" fill="none" stroke="#777" stroke-width="0.6" /><rect x="555" y="288" width="44" height="7" fill="#4a4a4a" stroke="none" stroke-width="1" /><rect x="582" y="281" width="7" height="14" fill="#f4f4f4" stroke="#777" stroke-width="0.6" /><rect x="546" y="294.6" width="61" height="10.4" fill="#d2d2d2" stroke="#333" stroke-width="1" /><polygon points="553.0,305.0 557.0,311.0 597.0,311.0 601.0,305.0" fill="#6a6a6a" stroke="#333" stroke-width="0.8" /><rect x="560" y="311" width="32" height="3.5" fill="#8c8c3c" stroke="#444" stroke-width="0.6" /><rect x="608" y="227.6" width="22" height="78.2" fill="url(#gCyl2)" stroke="#6aa0c8" stroke-width="1.3" /><rect x="630" y="228" width="13" height="72" fill="#fff" stroke="#777" stroke-width="0.8" /><rect x="643.4" y="248.6" width="6" height="52.7" fill="#86d4dc" stroke="#5a9aa8" stroke-width="0.6" /><path d="M649,232 L660,234 L663,240 L660,246 L656,250 L656,290 L649,300 Z" fill="#fff" stroke="#777" stroke-width="0.8"/><rect x="652" y="250" width="4" height="30" fill="#888" stroke="none" stroke-width="1" /><polyline points="628.0,305.0 628.0,316.0 623.0,320.0 623.0,346.5 651.7,346.5 651.7,320.0 646.0,316.0 646.0,305.0" fill="#fff" stroke="#777" stroke-width="1" /><line x1="557" y1="248.6" x2="597.5" y2="250.9" stroke="#e01818" stroke-width="1.8" /><line x1="555.4" y1="284.8" x2="596" y2="280" stroke="#e01818" stroke-width="1.8" /><line x1="597.5" y1="250.9" x2="640.4" y2="255.4" stroke="#e01818" stroke-width="1.8" /><line x1="596" y1="280" x2="640.4" y2="277.2" stroke="#e01818" stroke-width="1.8" /><circle cx="597.5" cy="251" r="2" fill="#e01818"/><circle cx="596" cy="280" r="2" fill="#e01818"/><polyline points="113.0,263.0 95.0,263.0 95.0,509.0" fill="none" stroke="#000" stroke-width="3" /><line x1="281" y1="157.5" x2="281" y2="222" stroke="#000" stroke-width="3" /><text x="689" y="100.5" font-family="'Liberation Serif', serif" font-size="24" font-weight="normal" font-style="normal" fill="#000" text-anchor="start" >Subcarrier modulation</text><text x="767" y="119.5" font-family="'Liberation Serif', serif" font-size="24" font-weight="normal" font-style="normal" fill="#000" text-anchor="start" >pulses</text><text x="691" y="260.5" font-family="'Liberation Serif', serif" font-size="24" font-weight="normal" font-style="normal" fill="#000" text-anchor="start" >Reflected</text><text x="716" y="289.5" font-family="'Liberation Serif', serif" font-size="24" font-weight="normal" font-style="normal" fill="#000" text-anchor="start" >light</text><text x="743" y="390" font-family="'Liberation Serif', serif" font-size="24" font-weight="normal" font-style="normal" fill="#000" text-anchor="start" >Motorized rotation</text><text x="294" y="385" font-family="'Liberation Serif', serif" font-size="24" font-weight="normal" font-style="normal" fill="#000" text-anchor="start" >Streak-tube Camera</text><text x="1117" y="225.5" font-family="'Liberation Serif', serif" font-size="24" font-weight="normal" font-style="normal" fill="#000" text-anchor="start" >scattering</text><text x="1045" y="336.5" font-family="'Liberation Serif', serif" font-size="24" font-weight="normal" font-style="normal" fill="#000" text-anchor="start" >Water tank</text><text x="1507" y="226.7" font-family="'Liberation Serif', serif" font-size="24" font-weight="normal" font-style="normal" fill="#000" text-anchor="start" >Line scanning beams</text><text x="1696" y="182" font-family="'Liberation Serif', serif" font-size="24" font-weight="normal" font-style="normal" fill="#000" text-anchor="start" >1 st</text><text x="1715" y="202.3" font-family="'Liberation Serif', serif" font-size="24" font-weight="normal" font-style="normal" fill="#000" text-anchor="start" >2 nd</text><text x="1738" y="225.3" font-family="'Liberation Serif', serif" font-size="24" font-weight="normal" font-style="normal" fill="#000" text-anchor="start" >3 rd</text><text x="1781" y="272.5" font-family="'Liberation Serif', serif" font-size="24" font-weight="normal" font-style="normal" fill="#000" text-anchor="start" ><tspan font-style="italic">N</tspan> th</text><text x="1899" y="336" font-family="'Liberation Serif', serif" font-size="24" font-weight="normal" font-style="normal" fill="#000" text-anchor="start" >Target</text><text x="1484" y="391.4" font-family="'Liberation Serif', serif" font-size="24" font-weight="normal" font-style="normal" fill="#000" text-anchor="start" >25 meters</text><line x1="1036" y1="347" x2="1036" y2="383" stroke="#000" stroke-width="3" /><line x1="2023" y1="350" x2="2023" y2="384" stroke="#000" stroke-width="3" /><line x1="1048" y1="364" x2="2012" y2="364" stroke="#000" stroke-width="2" /><polygon points="1038.0,364.0 1050.0,359.0 1050.0,369.0" fill="#000" stroke="none" stroke-width="1" /><polygon points="2021.0,364.0 2009.0,369.0 2009.0,359.0" fill="#000" stroke="none" stroke-width="1" /><text x="505.5" y="449.8" font-family="'Liberation Serif', serif" font-size="28" font-weight="bold" font-style="normal" fill="#000" text-anchor="start" >(b) Input Data</text><polygon points="39.4,525.6 71.1,494.5 158.3,494.5 127.7,525.6" fill="url(#gBlueTop)" stroke="#173a78" stroke-width="1.2" /><polygon points="127.7,525.6 158.3,494.5 158.3,536.8 127.7,562.8" fill="url(#gBlueSide)" stroke="#173a78" stroke-width="1.2" /><rect x="39.4" y="525.6" width="88.3" height="37.2" fill="url(#gBlueBox)" stroke="#173a78" stroke-width="1.2" /><text x="43" y="551" font-family="'Liberation Serif', serif" font-size="24" font-weight="normal" font-style="normal" fill="#000" text-anchor="start" >Decoder</text><polyline points="139.0,535.3 321.6,534.3 50.0,845.0" fill="none" stroke="#000" stroke-width="3" /><polygon points="44.7,850.8 49.8,836.6 58.0,843.9" fill="#000" stroke="none" stroke-width="1" /><g ><polygon points="335.5,516.7 340.0,512.0 461.0,512.0 456.5,516.7" fill="#fff" stroke="#000" stroke-width="1" /><polygon points="456.5,516.7 461.0,512.0 461.0,630.0 456.5,634.7" fill="url(#gSideGray)" stroke="#000" stroke-width="1" /><rect x="335.5" y="516.7" width="121" height="118" fill="#46287a" stroke="none" stroke-width="1" /></g><rect x="413.5" y="569" width="4.4" height="38" rx="2.2" fill="url(#gStreak)"/><g ><polygon points="285.6,573.4 290.1,568.7 411.1,568.7 406.6,573.4" fill="#fff" stroke="#000" stroke-width="1" /><polygon points="406.6,573.4 411.1,568.7 411.1,686.7 406.6,691.4" fill="url(#gSideGray)" stroke="#000" stroke-width="1" /><rect x="285.6" y="573.4" width="121" height="118" fill="#46287a" stroke="none" stroke-width="1" /></g><rect x="364.8" y="627" width="4.4" height="38" rx="2.2" fill="url(#gStreak)"/><g ><polygon points="237.5,629.6 242.0,624.9 363.0,624.9 358.5,629.6" fill="#fff" stroke="#000" stroke-width="1" /><polygon points="358.5,629.6 363.0,624.9 363.0,742.9 358.5,747.6" fill="url(#gSideGray)" stroke="#000" stroke-width="1" /><rect x="237.5" y="629.6" width="121" height="118" fill="#46287a" stroke="none" stroke-width="1" /></g><rect x="316.5" y="681" width="4.4" height="38" rx="2.2" fill="url(#gStreak)"/><rect x="306.9" y="682" width="3.6" height="36" rx="1.8" fill="url(#gStreak2)"/><rect x="297.2" y="697" width="3.0" height="20" rx="1.5" fill="url(#gStreak2)"/><rect x="287.5" y="699" width="2.4" height="16" rx="1.2" fill="url(#gStreak2)"/><text x="243.8" y="678.2" font-family="'Liberation Serif', serif" font-size="18.3" font-weight="normal" font-style="normal" fill="#fff" text-anchor="start" ><tspan font-style="italic">j</tspan> th row</text><text x="243.8" y="698.4" font-family="'Liberation Serif', serif" font-size="18.3" font-weight="normal" font-style="normal" fill="#fff" text-anchor="start" >1×2048</text><rect x="238.5" y="707.5" width="119" height="7.5" fill="none" stroke="#e8141c" stroke-width="3" /><polygon points="138.4,741.8 143.0,736.6 263.4,736.6 258.8,741.8" fill="#ffffff" stroke="#000" stroke-width="1" fill-opacity="0.3"/><polygon points="258.8,741.8 263.4,736.6 263.4,854.0 258.8,859.3" fill="#ffffff" stroke="#000" stroke-width="1" fill-opacity="0.6"/><rect x="138.4" y="741.8" width="120.4" height="117.5" fill="#d6cde4" stroke="#000" stroke-width="1" fill-opacity="0.85"/><polyline points="297.8,716.0 297.8,767.9 366.0,767.9" fill="none" stroke="#e81c24" stroke-width="3" stroke-dasharray="7,4"/><polygon points="375.0,767.9 364.0,772.4 364.0,763.4" fill="#e81c24" stroke="none" stroke-width="1" /><line x1="294.2" y1="564.2" x2="325.6" y2="564.2" stroke="#1a64c4" stroke-width="2.6" stroke-dasharray="6,4"/><polygon points="334.6,564.2 323.6,568.7 323.6,559.7" fill="#1a64c4" stroke="none" stroke-width="1" /><line x1="245.6" y1="621.3" x2="275.7" y2="621.3" stroke="#1a64c4" stroke-width="2.6" stroke-dasharray="6,4"/><polygon points="284.7,621.3 273.7,625.8 273.7,616.8" fill="#1a64c4" stroke="none" stroke-width="1" /><line x1="185.8" y1="688.9" x2="227.8" y2="688.9" stroke="#1a64c4" stroke-width="2.6" stroke-dasharray="6,4"/><polygon points="236.8,688.9 225.8,693.4 225.8,684.4" fill="#1a64c4" stroke="none" stroke-width="1" /><line x1="88.6" y1="797" x2="129.8" y2="797" stroke="#1a64c4" stroke-width="2.6" stroke-dasharray="6,4"/><polygon points="138.8,797.0 127.8,801.5 127.8,792.5" fill="#1a64c4" stroke="none" stroke-width="1" /><text x="254.3" y="570.2" font-family="'Liberation Serif', serif" font-size="24" font-weight="normal" font-style="normal" fill="#000" text-anchor="start" >1 st</text><text x="191.5" y="625.8" font-family="'Liberation Serif', serif" font-size="24" font-weight="normal" font-style="normal" fill="#000" text-anchor="start" >2 nd</text><text x="144.6" y="694.4" font-family="'Liberation Serif', serif" font-size="24" font-weight="normal" font-style="normal" fill="#000" text-anchor="start" ><tspan font-style="italic">i</tspan> th</text><text x="37" y="803.3" font-family="'Liberation Serif', serif" font-size="24" font-weight="normal" font-style="normal" fill="#000" text-anchor="start" ><tspan font-style="italic">N</tspan> th</text><text x="136.5" y="892.6" font-family="'Liberation Serif', serif" font-size="24" font-weight="normal" font-style="normal" fill="#000" text-anchor="start" >2048×2048</text><text x="54" y="730" font-family="'Liberation Serif', serif" font-size="24.5" font-weight="normal" font-style="normal" fill="#000" text-anchor="start" transform="rotate(-46.3 54 730)" >With line scanning</text><line x1="176" y1="660" x2="196" y2="643" stroke="#000" stroke-width="2" stroke-dasharray="1.6,3.4"/><line x1="98" y1="750" x2="118" y2="727" stroke="#000" stroke-width="2" stroke-dasharray="1.6,3.4"/><polygon points="480.6,608.0 483.0,605.4 669.4,605.4 667.0,608.0" fill="#fff" stroke="#000" stroke-width="1.2" /><polygon points="667.0,608.0 669.4,605.4 669.4,654.9 667.0,657.5" fill="url(#gSideGray)" stroke="#000" stroke-width="1.2" /><rect x="480.6" y="608" width="186.4" height="49.5" fill="#fff" stroke="#000" stroke-width="1.2" /><polyline points="489.0,652.8 489.8,652.8 490.7,652.8 491.5,652.8 492.4,652.8 493.2,652.8 494.1,652.8 494.9,652.8 495.7,652.8 496.6,652.8 497.4,652.8 498.3,652.8 499.1,652.8 500.0,652.8 500.8,652.8 501.6,652.8 502.5,652.8 503.3,652.8 504.2,652.8 505.0,652.8 505.9,652.8 506.7,652.8 507.5,652.8 508.4,652.8 509.2,652.8 510.1,652.8 510.9,652.8 511.8,652.8 512.6,652.8 513.4,652.8 514.3,652.8 515.1,652.8 516.0,652.8 516.8,652.8 517.7,652.8 518.5,652.8 519.3,652.7 520.2,652.7 521.0,652.6 521.9,652.5 522.7,652.3 523.6,652.1 524.4,651.9 525.2,651.7 526.1,651.5 526.9,651.4 527.8,651.3 528.6,651.3 529.5,651.4 530.3,651.6 531.1,651.8 532.0,652.0 532.8,652.2 533.7,652.4 534.5,652.5 535.4,652.6 536.2,652.7 537.1,652.7 537.9,652.8 538.7,652.8 539.6,652.8 540.4,652.8 541.3,652.8 542.1,652.8 543.0,652.8 543.8,652.8 544.6,652.8 545.5,652.8 546.3,652.8 547.2,652.8 548.0,652.8 548.9,652.8 549.7,652.8 550.5,652.7 551.4,652.6 552.2,652.5 553.1,652.2 553.9,651.9 554.8,651.3 555.6,650.6 556.4,649.8 557.3,648.8 558.1,647.8 559.0,646.9 559.8,646.2 560.7,645.8 561.5,645.9 562.3,646.3 563.2,647.0 564.0,647.9 564.9,649.0 565.7,649.9 566.6,650.8 567.4,651.4 568.2,651.9 569.1,652.3 569.9,652.5 570.8,652.6 571.6,652.7 572.5,652.8 573.3,652.8 574.1,652.8 575.0,652.8 575.8,652.8 576.7,652.8 577.5,652.8 578.4,652.8 579.2,652.8 580.0,652.8 580.9,652.8 581.7,652.8 582.6,652.8 583.4,652.8 584.3,652.7 585.1,652.6 585.9,652.5 586.8,652.3 587.6,651.9 588.5,651.4 589.3,650.6 590.2,649.5 591.0,648.2 591.8,646.6 592.7,644.8 593.5,643.0 594.4,641.3 595.2,639.9 596.1,639.1 596.9,638.8 597.7,639.2 598.6,640.2 599.4,641.7 600.3,643.4 601.1,645.2 602.0,647.0 602.8,648.5 603.6,649.8 604.5,650.8 605.3,651.5 606.2,652.0 607.0,652.4 607.9,652.6 608.7,652.7 609.5,652.7 610.4,652.8 611.2,652.8 612.1,652.8 612.9,652.8 613.8,652.8 614.6,652.8 615.5,652.8 616.3,652.8 617.1,652.8 618.0,652.7 618.8,652.7 619.7,652.5 620.5,652.3 621.4,651.8 622.2,651.1 623.0,649.8 623.9,648.1 624.7,645.5 625.6,642.1 626.4,637.9 627.3,632.9 628.1,627.4 628.9,622.0 629.8,617.1 630.6,613.3 631.5,611.2 632.3,610.9 633.2,612.6 634.0,616.0 634.8,620.6 635.7,626.0 636.5,631.5 637.4,636.6 638.2,641.1 639.1,644.7 639.9,647.5 640.7,649.4 641.6,650.8 642.4,651.6 643.3,652.2 644.1,652.5 645.0,652.6 645.8,652.7 646.6,652.8 647.5,652.8 648.3,652.8 649.2,652.8 650.0,652.8 650.9,652.8 651.7,652.8 652.5,652.8 653.4,652.8 654.2,652.8 655.1,652.8 655.9,652.8 656.8,652.8 657.6,652.8" fill="none" stroke="#e03a3a" stroke-width="1.1" /><text x="495.6" y="682.7" font-family="'Liberation Serif', serif" font-size="24" font-weight="normal" font-style="normal" fill="#000" text-anchor="start" >Template Signal</text><polygon points="375.6,743.2 378.1,740.8 617.4,740.8 614.9,743.2" fill="#fff" stroke="#000" stroke-width="1.2" /><polygon points="614.9,743.2 617.4,740.8 617.4,790.6 614.9,793.0" fill="url(#gSideGray)" stroke="#000" stroke-width="1.2" /><rect x="375.6" y="743.2" width="239.3" height="49.8" fill="#fff" stroke="#000" stroke-width="1.2" /><polyline points="386.5,786.4 387.2,786.0 387.8,788.2 388.5,786.2 389.2,787.4 389.9,785.9 390.5,787.5 391.2,788.0 391.9,788.1 392.6,786.7 393.2,787.4 393.9,786.2 394.6,787.5 395.3,786.0 395.9,786.8 396.6,785.9 397.3,787.9 398.0,786.0 398.6,787.3 399.3,788.1 400.0,787.3 400.7,787.0 401.3,788.1 402.0,787.2 402.7,787.3 403.4,787.6 404.0,786.4 404.7,786.6 405.4,787.7 406.1,786.3 406.7,787.5 407.4,786.9 408.1,787.9 408.8,786.3 409.4,787.7 410.1,786.5 410.8,786.8 411.5,788.1 412.1,788.0 412.8,787.0 413.5,787.2 414.2,787.5 414.8,785.8 415.5,787.1 416.2,786.4 416.9,786.3 417.5,788.0 418.2,787.9 418.9,786.8 419.6,786.1 420.2,786.0 420.9,787.4 421.6,786.1 422.3,786.2 422.9,787.7 423.6,787.5 424.3,787.1 425.0,787.9 425.6,786.4 426.3,787.9 427.0,786.0 427.7,785.9 428.3,785.9 429.0,787.8 429.7,787.6 430.4,788.0 431.0,786.4 431.7,786.7 432.4,786.0 433.1,786.2 433.7,787.0 434.4,787.6 435.1,786.2 435.8,786.4 436.4,786.8 437.1,785.9 437.8,786.6 438.5,787.2 439.1,787.0 439.8,788.1 440.5,787.4 441.1,786.4 441.8,786.4 442.5,786.0 443.2,787.2 443.8,787.0 444.5,787.1 445.2,787.9 445.9,787.7 446.5,787.7 447.2,787.1 447.9,787.4 448.6,786.2 449.2,786.1 449.9,787.4 450.6,787.5 451.3,786.4 451.9,786.4 452.6,787.1 453.3,786.4 454.0,786.2 454.6,787.6 455.3,787.1 456.0,785.9 456.7,787.1 457.3,786.5 458.0,785.8 458.7,786.9 459.4,787.4 460.0,786.1 460.7,786.4 461.4,787.9 462.1,788.0 462.7,788.0 463.4,786.1 464.1,787.0 464.8,786.5 465.4,788.0 466.1,787.2 466.8,786.1 467.5,786.8 468.1,787.0 468.8,787.5 469.5,788.1 470.2,787.3 470.8,786.5 471.5,786.4 472.2,786.0 472.9,785.9 473.5,787.4 474.2,787.7 474.9,787.0 475.6,785.5 476.2,784.7 476.9,785.3 477.6,782.7 478.3,781.5 478.9,778.9 479.6,779.2 480.3,781.3 481.0,782.9 481.6,784.6 482.3,785.4 483.0,787.9 483.7,787.2 484.3,786.0 485.0,786.3 485.7,787.8 486.4,786.6 487.0,787.2 487.7,787.5 488.4,787.1 489.1,786.3 489.7,786.0 490.4,787.8 491.1,786.5 491.8,786.8 492.4,786.5 493.1,784.1 493.8,780.6 494.4,777.7 495.1,775.2 495.8,775.4 496.5,774.5 497.1,779.1 497.8,779.1 498.5,781.5 499.2,785.8 499.8,786.0 500.5,786.1 501.2,785.8 501.9,787.7 502.5,787.0 503.2,785.8 503.9,787.4 504.6,787.0 505.2,787.1 505.9,786.9 506.6,786.7 507.3,785.7 507.9,787.1 508.6,786.0 509.3,785.9 510.0,783.2 510.6,780.0 511.3,777.9 512.0,778.2 512.7,774.6 513.3,770.2 514.0,772.5 514.7,774.3 515.4,775.7 516.0,777.8 516.7,781.2 517.4,782.5 518.1,784.8 518.7,785.7 519.4,786.8 520.1,787.6 520.8,786.2 521.4,786.3 522.1,786.0 522.8,787.4 523.5,786.6 524.1,786.1 524.8,786.8 525.5,784.4 526.2,783.3 526.8,780.3 527.5,775.3 528.2,770.3 528.9,761.4 529.5,759.8 530.2,756.4 530.9,753.8 531.6,743.9 532.2,746.7 532.9,756.4 533.6,758.7 534.3,770.6 534.9,774.0 535.6,779.0 536.3,782.3 537.0,785.2 537.6,786.3 538.3,787.1 539.0,785.6 539.7,786.2 540.3,788.1 541.0,787.9 541.7,787.6 542.4,785.9 543.0,786.3 543.7,786.8 544.4,786.7 545.1,786.7 545.7,786.6 546.4,786.4 547.1,786.2 547.8,787.3 548.4,787.0 549.1,786.3 549.8,787.0 550.4,787.2 551.1,787.1 551.8,787.8 552.5,786.5 553.1,787.8 553.8,787.6 554.5,787.5 555.2,786.6 555.8,786.8 556.5,786.3 557.2,788.0 557.9,786.5 558.5,786.9 559.2,787.2 559.9,787.7 560.6,787.6 561.2,787.6 561.9,786.7 562.6,786.8 563.3,786.7 563.9,787.6 564.6,786.7 565.3,786.3 566.0,787.6 566.6,786.2 567.3,785.8 568.0,788.2 568.7,786.5 569.3,786.6 570.0,787.7 570.7,786.9 571.4,786.0 572.0,786.5 572.7,787.2 573.4,787.6 574.1,787.7 574.7,787.3 575.4,786.7 576.1,786.4 576.8,785.8 577.4,787.4 578.1,786.1 578.8,788.1 579.5,787.6 580.1,787.0 580.8,788.0 581.5,786.9 582.2,786.4 582.8,787.6 583.5,785.9 584.2,786.2 584.9,787.9 585.5,787.6 586.2,786.3 586.9,787.5 587.6,787.0 588.2,787.5 588.9,787.5 589.6,786.1 590.3,788.0 590.9,786.8 591.6,785.8 592.3,786.5 593.0,788.1 593.6,786.3 594.3,786.5 595.0,786.0 595.7,788.0 596.3,785.9 597.0,786.3 597.7,788.0 598.4,786.4 599.0,786.6 599.7,787.1 600.4,787.7 601.1,786.2 601.7,787.8 602.4,787.1" fill="none" stroke="#e02020" stroke-width="1.1" /><text x="436.3" y="819.8" font-family="'Liberation Serif', serif" font-size="24" font-weight="normal" font-style="normal" fill="#000" text-anchor="start" >Echo Signal</text><polyline points="576.0,605.0 576.0,561.0 815.0,561.0" fill="none" stroke="#000" stroke-width="3" /><polygon points="825.0,561.0 813.0,566.0 813.0,556.0" fill="#000" stroke="none" stroke-width="1" /><polyline points="498.0,741.0 498.0,699.0 739.0,699.0" fill="none" stroke="#000" stroke-width="3" /><polygon points="749.0,699.0 737.0,704.0 737.0,694.0" fill="#000" stroke="none" stroke-width="1" /><text x="1387" y="448.4" font-family="'Liberation Serif', serif" font-size="28" font-weight="bold" font-style="normal" fill="#000" text-anchor="start" >(c) StreakNet Architecture</text><text x="891.9" y="454.3" font-family="'Liberation Serif', serif" font-size="24" font-weight="normal" font-style="normal" fill="#000" text-anchor="start" >Frequency spectrum (0~4GHz)</text><line x1="886" y1="447.4" x2="862" y2="470" stroke="#000" stroke-width="3" stroke-dasharray="2.5,2.5"/><polygon points="853.5,477.5 859.6,463.6 867.8,472.3" fill="#000" stroke="none" stroke-width="1" /><polyline points="837.0,623.0 837.0,788.7 1030.0,788.7 1011.0,817.0" fill="none" stroke="#000" stroke-width="3" stroke-dasharray="9,5"/><polygon points="1005.3,823.8 1007.9,811.1 1016.2,816.6" fill="#000" stroke="none" stroke-width="1" /><polygon points="825.2,496.5 828.2,493.5 852.6,493.5 849.6,496.5" fill="#a8d6f0" stroke="#1a2a3a" stroke-width="1" /><polygon points="849.6,496.5 852.6,493.5 852.6,619.8 849.6,622.8" fill="#9fd0ee" stroke="#1a2a3a" stroke-width="1" /><rect x="825.2" y="496.5" width="24.4" height="126.3" fill="url(#gViridis)" stroke="#1a2a3a" stroke-width="1" /><polygon points="749.2,634.9 752.2,631.9 776.1,631.9 773.1,634.9" fill="#a8d6f0" stroke="#1a2a3a" stroke-width="1" /><polygon points="773.1,634.9 776.1,631.9 776.1,759.3 773.1,762.3" fill="#9fd0ee" stroke="#1a2a3a" stroke-width="1" /><rect x="749.2" y="634.9" width="23.9" height="127.4" fill="url(#gViridis)" stroke="#1a2a3a" stroke-width="1" /><g ><polygon points="891.4,492.4 1014.6,523.4 1014.6,592.5 1010.6,592.5 1010.6,527.4 891.4,495.4" fill="#c8c8c8" stroke="none" stroke-width="1" /><polygon points="891.4,493.9 1012.6,525.4 1012.6,592.5" fill="none" stroke="#f0f0f0" stroke-width="1" /><polygon points="891.4,495.4 1010.6,527.4 1010.6,592.5 891.4,622.1" fill="#fdeba0" stroke="#b8a868" stroke-width="0.8" /></g><text x="933.4" y="554.8" font-family="'Liberation Serif', serif" font-size="24" font-weight="normal" font-style="normal" fill="#3a3a3a" text-anchor="start" >FD</text><text x="893" y="575.3" font-family="'Liberation Serif', serif" font-size="24" font-weight="normal" font-style="normal" fill="#3a3a3a" text-anchor="start" >Embedding</text><g opacity="0.88"><polygon points="814.7,631.0 938.4,662.5 938.4,733.0 934.4,733.0 934.4,666.5 814.7,634.0" fill="#c8c8c8" stroke="none" stroke-width="1" /><polygon points="814.7,632.5 936.4,664.5 936.4,733.0" fill="none" stroke="#f0f0f0" stroke-width="1" /><polygon points="814.7,634.0 934.4,666.5 934.4,733.0 814.7,762.3" fill="#fdeba0" stroke="#b8a868" stroke-width="0.8" /></g><text x="857" y="697" font-family="'Liberation Serif', serif" font-size="24" font-weight="normal" font-style="normal" fill="#3a3a3a" text-anchor="start" >FD</text><text x="816.4" y="717" font-family="'Liberation Serif', serif" font-size="24" font-weight="normal" font-style="normal" fill="#3a3a3a" text-anchor="start" >Embedding</text><text x="751.4" y="554.3" font-family="'Liberation Serif', serif" font-size="24" font-weight="normal" font-style="normal" fill="#000" text-anchor="start" >FFT</text><text x="706" y="683.1" font-family="'Liberation Serif', serif" font-size="24" font-weight="normal" font-style="normal" fill="#444" text-anchor="start" >FFT</text><polyline points="852.6,558.0 882.2,558.0" fill="none" stroke="#000" stroke-width="3" /><polygon points="891.0,558.0 880.0,562.5 880.0,553.5" fill="#000" stroke="none" stroke-width="1" /><polyline points="776.5,698.0 805.9,698.0" fill="none" stroke="#000" stroke-width="3" /><polygon points="814.7,698.0 803.7,702.5 803.7,693.5" fill="#000" stroke="none" stroke-width="1" /><polyline points="1015.0,558.0 1060.2,557.2" fill="none" stroke="#000" stroke-width="3" /><polygon points="1069.0,557.0 1058.1,561.7 1057.9,552.7" fill="#000" stroke="none" stroke-width="1" /><polyline points="1091.7,557.0 1125.8,557.0" fill="none" stroke="#000" stroke-width="3" /><polygon points="1134.6,557.0 1123.6,561.5 1123.6,552.5" fill="#000" stroke="none" stroke-width="1" /><polyline points="1157.1,557.0 1192.7,557.0" fill="none" stroke="#000" stroke-width="3" /><polygon points="1201.5,557.0 1190.5,561.5 1190.5,552.5" fill="#000" stroke="none" stroke-width="1" /><polyline points="1224.0,557.0 1261.1,557.0" fill="none" stroke="#000" stroke-width="3" /><polygon points="1269.9,557.0 1258.9,561.5 1258.9,552.5" fill="#000" stroke="none" stroke-width="1" /><polyline points="1292.4,557.0 1317.8,557.0" fill="none" stroke="#000" stroke-width="3" /><polygon points="1326.6,557.0 1315.6,561.5 1315.6,552.5" fill="#000" stroke="none" stroke-width="1" /><polyline points="940.0,698.0 963.0,698.7" fill="none" stroke="#000" stroke-width="3" /><polygon points="971.8,699.0 960.7,703.2 960.9,694.2" fill="#000" stroke="none" stroke-width="1" /><polyline points="994.3,699.5 1027.9,699.5" fill="none" stroke="#000" stroke-width="3" /><polygon points="1036.7,699.5 1025.7,704.0 1025.7,695.0" fill="#000" stroke="none" stroke-width="1" /><polyline points="1059.2,699.5 1091.8,699.5" fill="none" stroke="#000" stroke-width="3" /><polygon points="1100.6,699.5 1089.6,704.0 1089.6,695.0" fill="#000" stroke="none" stroke-width="1" /><polyline points="1123.1,699.5 1159.9,699.5" fill="none" stroke="#000" stroke-width="3" /><polygon points="1168.7,699.5 1157.7,704.0 1157.7,695.0" fill="#000" stroke="none" stroke-width="1" /><polygon points="1069.2,525.0 1072.7,522.0 1091.7,522.0 1088.2,525.0" fill="#c4e6b4" stroke="#24421a" stroke-width="1" /><polygon points="1088.2,525.0 1091.7,522.0 1091.7,586.0 1088.2,589.0" fill="#62924a" stroke="#24421a" stroke-width="1" /><rect x="1069.2" y="525" width="19" height="64" fill="#a9d895" stroke="#24421a" stroke-width="1" /><polygon points="1134.6,525.0 1138.1,522.0 1157.1,522.0 1153.6,525.0" fill="#c4e6b4" stroke="#24421a" stroke-width="1" /><polygon points="1153.6,525.0 1157.1,522.0 1157.1,586.0 1153.6,589.0" fill="#62924a" stroke="#24421a" stroke-width="1" /><rect x="1134.6" y="525" width="19" height="64" fill="#a9d895" stroke="#24421a" stroke-width="1" /><polygon points="1201.5,525.0 1205.0,522.0 1224.0,522.0 1220.5,525.0" fill="#c4e6b4" stroke="#24421a" stroke-width="1" /><polygon points="1220.5,525.0 1224.0,522.0 1224.0,586.0 1220.5,589.0" fill="#62924a" stroke="#24421a" stroke-width="1" /><rect x="1201.5" y="525" width="19" height="64" fill="#a9d895" stroke="#24421a" stroke-width="1" /><polygon points="1269.9,525.0 1273.4,522.0 1292.4,522.0 1288.9,525.0" fill="#c4e6b4" stroke="#24421a" stroke-width="1" /><polygon points="1288.9,525.0 1292.4,522.0 1292.4,586.0 1288.9,589.0" fill="#62924a" stroke="#24421a" stroke-width="1" /><rect x="1269.9" y="525" width="19" height="64" fill="#a9d895" stroke="#24421a" stroke-width="1" /><polygon points="971.8,667.5 975.3,664.5 994.3,664.5 990.8,667.5" fill="#c4e6b4" stroke="#24421a" stroke-width="1" /><polygon points="990.8,667.5 994.3,664.5 994.3,728.5 990.8,731.5" fill="#62924a" stroke="#24421a" stroke-width="1" /><rect x="971.8" y="667.5" width="19" height="64" fill="#a9d895" stroke="#24421a" stroke-width="1" /><polygon points="1036.7,667.5 1040.2,664.5 1059.2,664.5 1055.7,667.5" fill="#c4e6b4" stroke="#24421a" stroke-width="1" /><polygon points="1055.7,667.5 1059.2,664.5 1059.2,728.5 1055.7,731.5" fill="#62924a" stroke="#24421a" stroke-width="1" /><rect x="1036.7" y="667.5" width="19" height="64" fill="#a9d895" stroke="#24421a" stroke-width="1" /><polygon points="1100.6,667.5 1104.1,664.5 1123.1,664.5 1119.6,667.5" fill="#c4e6b4" stroke="#24421a" stroke-width="1" /><polygon points="1119.6,667.5 1123.1,664.5 1123.1,728.5 1119.6,731.5" fill="#62924a" stroke="#24421a" stroke-width="1" /><rect x="1100.6" y="667.5" width="19" height="64" fill="#a9d895" stroke="#24421a" stroke-width="1" /><polygon points="1168.7,667.5 1172.2,664.5 1191.2,664.5 1187.7,667.5" fill="#c4e6b4" stroke="#24421a" stroke-width="1" /><polygon points="1187.7,667.5 1191.2,664.5 1191.2,728.5 1187.7,731.5" fill="#62924a" stroke="#24421a" stroke-width="1" /><rect x="1168.7" y="667.5" width="19" height="64" fill="#a9d895" stroke="#24421a" stroke-width="1" /><line x1="985.458044895163" y1="693.4959537398134" x2="1073.5419551048371" y2="570.5040462601866" stroke="#86a87c" stroke-width="2.8" stroke-dasharray="1.6,1.2"/><polygon points="1078.2,564.0 1075.8,573.4 1070.1,569.3" fill="#4a8a40" stroke="none" stroke-width="1" /><polygon points="980.8,700.0 983.2,690.6 988.9,694.7" fill="#8cc47a" stroke="none" stroke-width="1" /><line x1="1050.3738089565534" y1="693.5072725424794" x2="1138.9261910434466" y2="570.4927274575206" stroke="#86a87c" stroke-width="2.8" stroke-dasharray="1.6,1.2"/><polygon points="1143.6,564.0 1141.2,573.3 1135.5,569.3" fill="#4a8a40" stroke="none" stroke-width="1" /><polygon points="1045.7,700.0 1048.1,690.7 1053.8,694.7" fill="#8cc47a" stroke="none" stroke-width="1" /><line x1="1114.366677104944" y1="693.5751428516114" x2="1205.7333228950558" y2="570.4248571483886" stroke="#86a87c" stroke-width="2.8" stroke-dasharray="1.6,1.2"/><polygon points="1210.5,564.0 1207.9,573.3 1202.3,569.1" fill="#4a8a40" stroke="none" stroke-width="1" /><polygon points="1109.6,700.0 1112.2,690.7 1117.8,694.9" fill="#8cc47a" stroke="none" stroke-width="1" /><line x1="1182.4758036237072" y1="693.5819239839508" x2="1274.124196376293" y2="570.4180760160492" stroke="#86a87c" stroke-width="2.8" stroke-dasharray="1.6,1.2"/><polygon points="1278.9,564.0 1276.3,573.3 1270.7,569.1" fill="#4a8a40" stroke="none" stroke-width="1" /><polygon points="1177.7,700.0 1180.3,690.7 1185.9,694.9" fill="#8cc47a" stroke="none" stroke-width="1" /><text x="1009" y="638" font-family="'Liberation Serif', serif" font-size="23.5" font-weight="normal" font-style="normal" fill="#000" text-anchor="start" transform="rotate(-54 1009 638)" >Cross</text><text x="1026" y="673" font-family="'Liberation Serif', serif" font-size="23.5" font-weight="normal" font-style="normal" fill="#000" text-anchor="start" transform="rotate(-54 1026 673)" >Attention</text><text x="1073" y="638" font-family="'Liberation Serif', serif" font-size="23.5" font-weight="normal" font-style="normal" fill="#000" text-anchor="start" transform="rotate(-54 1073 638)" >Cross</text><text x="1090" y="673" font-family="'Liberation Serif', serif" font-size="23.5" font-weight="normal" font-style="normal" fill="#000" text-anchor="start" transform="rotate(-54 1090 673)" >Attention</text><text x="1139" y="638" font-family="'Liberation Serif', serif" font-size="23.5" font-weight="normal" font-style="normal" fill="#000" text-anchor="start" transform="rotate(-54 1139 638)" >Cross</text><text x="1156" y="673" font-family="'Liberation Serif', serif" font-size="23.5" font-weight="normal" font-style="normal" fill="#000" text-anchor="start" transform="rotate(-54 1156 673)" >Attention</text><text x="1206" y="638" font-family="'Liberation Serif', serif" font-size="23.5" font-weight="normal" font-style="normal" fill="#000" text-anchor="start" transform="rotate(-54 1206 638)" >Cross</text><text x="1223" y="673" font-family="'Liberation Serif', serif" font-size="23.5" font-weight="normal" font-style="normal" fill="#000" text-anchor="start" transform="rotate(-54 1223 673)" >Attention</text><polygon points="1326.6,494.5 1330.0,491.5 1352.0,491.5 1348.4,494.5" fill="#f2b898" stroke="#333" stroke-width="1" /><polygon points="1348.4,494.5 1352.0,491.5 1352.0,616.6 1348.4,619.6" fill="#d8a080" stroke="#333" stroke-width="1" /><rect x="1326.6" y="494.5" width="21.8" height="125.1" fill="#f8c8a8" stroke="#333" stroke-width="1" /><polyline points="1178.3,700.0 1239.3,700.0 1330.0,566.0" fill="none" stroke="#000" stroke-width="3" /><polygon points="1336.7,558.5 1333.6,572.1 1325.3,566.5" fill="#000" stroke="none" stroke-width="1" /><text x="1286" y="654.5" font-family="'Liberation Serif', serif" font-size="24" font-weight="normal" font-style="normal" fill="#000" text-anchor="start" >Concat</text><text x="1273.4" y="673.4" font-family="'Liberation Serif', serif" font-size="24" font-weight="normal" font-style="normal" fill="#000" text-anchor="start" >&amp; Flatten</text><polyline points="1352.0,557.0 1383.2,557.0" fill="none" stroke="#000" stroke-width="3" /><polygon points="1392.0,557.0 1381.0,561.5 1381.0,552.5" fill="#000" stroke="none" stroke-width="1" /><g ><polygon points="1392.4,491.3 1475.3,536.2 1475.3,575.3 1471.3,575.3 1471.3,540.2 1392.4,494.3" fill="#c8c8c8" stroke="none" stroke-width="1" /><polygon points="1392.4,492.8 1473.3,538.2 1473.3,575.3" fill="none" stroke="#f0f0f0" stroke-width="1" /><polygon points="1392.4,494.3 1471.3,540.2 1471.3,575.3 1392.4,619.8" fill="#fde8a0" stroke="#b8a868" stroke-width="0.8" /></g><text x="1401.9" y="563.1" font-family="'Liberation Serif', serif" font-size="24" font-weight="normal" font-style="normal" fill="#000" text-anchor="start" >Dense</text><text x="1451.8" y="513.2" font-family="'Liberation Serif', serif" font-size="24" font-weight="normal" font-style="normal" fill="#000" text-anchor="start" >0 or 1?</text><polyline points="1475.6,556.4 1515.9,555.3" fill="none" stroke="#000" stroke-width="3" /><polygon points="1524.7,555.0 1513.8,559.8 1513.6,550.8" fill="#000" stroke="none" stroke-width="1" /><polygon points="1524.7,472.7 1528.7,469.2 1584.2,519.2 1577.7,522.7" fill="#bcd8f5" stroke="#2a3a5a" stroke-width="0.8" /><polygon points="1577.7,522.7 1584.2,519.2 1584.2,625.3 1577.7,625.3" fill="#bcd8f5" stroke="#2a3a5a" stroke-width="0.8" /><polygon points="1524.7,472.7 1577.7,522.7 1577.7,625.3 1524.7,575.3" fill="#97afd0" stroke="#2a3a5a" stroke-width="0.8" /><polygon points="1525.4,620.5 1529.4,617.0 1584.9,667.0 1578.4,670.5" fill="#e3f0dc" stroke="#2a3a5a" stroke-width="0.8" /><polygon points="1578.4,670.5 1584.9,667.0 1584.9,772.0 1578.4,772.0" fill="#e3f0dc" stroke="#2a3a5a" stroke-width="0.8" /><polygon points="1525.4,620.5 1578.4,670.5 1578.4,772.0 1525.4,722.0" fill="#b2c1aa" stroke="#2a3a5a" stroke-width="0.8" /><polygon points="1524.7,766.6 1528.7,763.1 1584.2,813.1 1577.7,816.6" fill="#f8e2dc" stroke="#2a3a5a" stroke-width="0.8" /><polygon points="1577.7,816.6 1584.2,813.1 1584.2,916.5 1577.7,916.5" fill="#f8e2dc" stroke="#2a3a5a" stroke-width="0.8" /><polygon points="1524.7,766.6 1577.7,816.6 1577.7,916.5 1524.7,866.5" fill="#c2aca2" stroke="#2a3a5a" stroke-width="0.8" /><text x="1531" y="547" font-family="'Liberation Serif', serif" font-size="20" font-weight="normal" font-style="normal" fill="#000" text-anchor="start" >( <tspan font-style="italic">j</tspan>, <tspan font-style="italic">i</tspan> )</text><text x="1531" y="697.1" font-family="'Liberation Serif', serif" font-size="20" font-weight="normal" font-style="normal" fill="#000" text-anchor="start" >( <tspan font-style="italic">j</tspan>, <tspan font-style="italic">i</tspan> )</text><text x="1531" y="847" font-family="'Liberation Serif', serif" font-size="20" font-weight="normal" font-style="normal" fill="#000" text-anchor="start" >( <tspan font-style="italic">j</tspan>, <tspan font-style="italic">i</tspan> )</text><text x="1513" y="592" font-family="'Liberation Serif', serif" font-size="24" font-weight="normal" font-style="normal" fill="#000" text-anchor="start" transform="rotate(44 1513 592)" >2048×<tspan font-style="italic">N</tspan></text><text x="1509" y="738" font-family="'Liberation Serif', serif" font-size="24" font-weight="normal" font-style="normal" fill="#000" text-anchor="start" transform="rotate(44 1509 738)" >2048×<tspan font-style="italic">N</tspan></text><text x="1505.5" y="885" font-family="'Liberation Serif', serif" font-size="24" font-weight="normal" font-style="normal" fill="#000" text-anchor="start" transform="rotate(44 1505.5 885)" >2048×<tspan font-style="italic">N</tspan></text><text x="1588.2" y="598.2" font-family="'Liberation Serif', serif" font-size="24" font-weight="normal" font-style="normal" fill="#000" text-anchor="start" >Predict</text><text x="1588.2" y="618.5" font-family="'Liberation Serif', serif" font-size="24" font-weight="normal" font-style="normal" fill="#000" text-anchor="start" >Mask</text><text x="1590" y="750" font-family="'Liberation Serif', serif" font-size="24" font-weight="normal" font-style="normal" fill="#000" text-anchor="start" >Candidate</text><text x="1590" y="769.4" font-family="'Liberation Serif', serif" font-size="24" font-weight="normal" font-style="normal" fill="#000" text-anchor="start" >Gray Value</text><text x="1590" y="894.7" font-family="'Liberation Serif', serif" font-size="24" font-weight="normal" font-style="normal" fill="#000" text-anchor="start" >Candidate</text><text x="1590" y="914.2" font-family="'Liberation Serif', serif" font-size="24" font-weight="normal" font-style="normal" fill="#000" text-anchor="start" >Distance Map</text><polyline points="1581.4,555.8 1710.3,555.8 1710.3,832.0" fill="none" stroke="#000" stroke-width="3" /><polygon points="1710.3,843.0 1705.3,831.0 1715.3,831.0" fill="#000" stroke="none" stroke-width="1" /><line x1="1681.4" y1="555.8" x2="1681.4" y2="618" stroke="#000" stroke-width="3" /><polygon points="1681.4,626.0 1676.4,614.0 1686.4,614.0" fill="#000" stroke="none" stroke-width="1" /><polyline points="1581.2,705.2 1681.8,705.2 1681.8,659.0" fill="none" stroke="#000" stroke-width="3" /><polygon points="1681.8,648.5 1686.8,660.5 1676.8,660.5" fill="#000" stroke="none" stroke-width="1" /><circle cx="1681.2" cy="638" r="9" fill="#fff" stroke="#000" stroke-width="1.6"/><line x1="1674.8361" y1="631.6361" x2="1687.5639" y2="644.3639" stroke="#000" stroke-width="1.6" /><line x1="1674.8361" y1="644.3639" x2="1687.5639" y2="631.6361" stroke="#000" stroke-width="1.6" /><circle cx="1709" cy="860.5" r="9" fill="#fff" stroke="#000" stroke-width="1.6"/><line x1="1702.6361" y1="854.1361" x2="1715.3639" y2="866.8639" stroke="#000" stroke-width="1.6" /><line x1="1702.6361" y1="866.8639" x2="1715.3639" y2="854.1361" stroke="#000" stroke-width="1.6" /><polyline points="1692.0,637.0 1817.2,636.1" fill="none" stroke="#000" stroke-width="3" /><polygon points="1826.0,636.0 1815.0,640.6 1815.0,631.6" fill="#000" stroke="none" stroke-width="1" /><polyline points="1720.0,860.0 1817.2,859.5" fill="none" stroke="#000" stroke-width="3" /><polygon points="1826.0,859.5 1815.0,864.1 1815.0,855.1" fill="#000" stroke="none" stroke-width="1" /><polyline points="1390.0,759.0 1390.0,703.0 1546.2,703.0" fill="none" stroke="#000" stroke-width="3" /><polygon points="1555.0,703.0 1544.0,707.5 1544.0,698.5" fill="#000" stroke="none" stroke-width="1" /><polyline points="1300.5,859.7 1554.7,859.4" fill="none" stroke="#000" stroke-width="3" /><polygon points="1563.5,859.4 1552.5,863.9 1552.5,854.9" fill="#000" stroke="none" stroke-width="1" /><polyline points="1581.0,860.0 1689.2,860.0" fill="none" stroke="#000" stroke-width="3" /><polygon points="1698.0,860.0 1687.0,864.5 1687.0,855.5" fill="#000" stroke="none" stroke-width="1" /><polyline points="760.8,762.0 760.8,834.4 885.0,834.4" fill="none" stroke="#000" stroke-width="3" /><polygon points="895.0,834.4 883.0,839.4 883.0,829.4" fill="#000" stroke="none" stroke-width="1" /><polygon points="909.6,844.5 935.2,820.6 935.2,825.5 909.6,849.3" fill="#e8b090" stroke="#000" stroke-width="1" /><rect x="883.6" y="844.5" width="26" height="4.8" fill="#f8c8a8" stroke="#000" stroke-width="1" /><polygon points="883.6,844.5 907.5,820.6 935.2,820.6 909.6,844.5" fill="#f8c8a8" stroke="#000" stroke-width="1" /><line x1="908.9" y1="740" x2="908.9" y2="824" stroke="#e8823a" stroke-width="2.6" /><polygon points="908.9,833.4 904.4,821.4 913.4,821.4" fill="#e8823a" stroke="none" stroke-width="1" /><text x="914.4" y="758" font-family="'Liberation Serif', serif" font-size="24" font-weight="normal" font-style="normal" fill="#cc6a28" text-anchor="start" >Attention</text><text x="914.4" y="778.4" font-family="'Liberation Serif', serif" font-size="24" font-weight="normal" font-style="normal" fill="#cc6a28" text-anchor="start" >Analysis</text><polyline points="920.8,834.4 982.2,834.4" fill="none" stroke="#000" stroke-width="3" /><polygon points="991.0,834.4 980.0,838.9 980.0,829.9" fill="#000" stroke="none" stroke-width="1" /><circle cx="1001.8" cy="835.3" r="9" fill="#fff" stroke="#000" stroke-width="1.6"/><line x1="995.4361" y1="828.9361" x2="1008.1638999999999" y2="841.6638999999999" stroke="#000" stroke-width="1.6" /><line x1="995.4361" y1="841.6638999999999" x2="1008.1638999999999" y2="828.9361" stroke="#000" stroke-width="1.6" /><polyline points="1011.0,835.0 1093.2,835.0" fill="none" stroke="#000" stroke-width="3" /><polygon points="1102.0,835.0 1091.0,839.5 1091.0,830.5" fill="#000" stroke="none" stroke-width="1" /><text x="1039.7" y="821" font-family="'Liberation Serif', serif" font-size="24" font-weight="normal" font-style="normal" fill="#000" text-anchor="start" >IFFT</text><line x1="844.6" y1="894.2" x2="870" y2="860" stroke="#000" stroke-width="3" stroke-dasharray="2.5,2.5"/><polygon points="877.9,851.0 874.3,865.8 864.7,858.6" fill="#000" stroke="none" stroke-width="1" /><text x="715" y="919.8" font-family="'Liberation Serif', serif" font-size="24" font-weight="normal" font-style="normal" fill="#000" text-anchor="start" >Equivalent bandpass filter</text><text x="934.4" y="888.6" font-family="'Liberation Serif', serif" font-size="24" font-weight="normal" font-style="normal" fill="#000" text-anchor="start" >Matched filtering</text><polygon points="1102.3,768.3 1106.9,763.4 1377.5,763.4 1372.9,768.3" fill="#c8d0e2" stroke="#000" stroke-width="1.3" /><polygon points="1372.9,768.3 1377.5,763.4 1377.5,841.4 1372.9,846.3" fill="#a4acbc" stroke="#000" stroke-width="1.3" /><rect x="1102.3" y="768.3" width="270.6" height="78" fill="#fff" stroke="#000" stroke-width="1.3" /><polyline points="1114.5,840.5 1114.7,840.7 1114.9,840.9 1115.1,841.1 1115.3,841.3 1115.5,841.5 1115.8,841.6 1116.0,841.4 1116.2,841.2 1116.4,840.9 1116.6,840.7 1116.8,840.5 1117.0,840.2 1117.2,840.0 1117.4,839.8 1117.6,839.6 1117.8,839.4 1118.1,839.2 1118.3,839.0 1118.5,838.9 1118.7,838.7 1118.9,838.6 1119.1,838.5 1119.3,838.4 1119.5,838.4 1119.7,838.3 1119.9,838.3 1120.1,838.3 1120.4,838.3 1120.6,838.3 1120.8,838.4 1121.0,838.5 1121.2,838.6 1121.4,838.7 1121.6,838.9 1121.8,839.0 1122.0,839.2 1122.2,839.4 1122.4,839.7 1122.7,839.9 1122.9,840.2 1123.1,840.5 1123.3,840.8 1123.5,841.1 1123.7,841.4 1123.9,841.7 1124.1,841.4 1124.3,841.0 1124.5,840.7 1124.7,840.3 1125.0,840.0 1125.2,839.7 1125.4,839.4 1125.6,839.0 1125.8,838.7 1126.0,838.4 1126.2,838.2 1126.4,837.9 1126.6,837.7 1126.8,837.4 1127.0,837.2 1127.3,837.1 1127.5,836.9 1127.7,836.8 1127.9,836.7 1128.1,836.7 1128.3,836.6 1128.5,836.6 1128.7,836.7 1128.9,836.8 1129.1,836.9 1129.3,837.0 1129.6,837.2 1129.8,837.4 1130.0,837.6 1130.2,837.9 1130.4,838.2 1130.6,838.6 1130.8,838.9 1131.0,839.3 1131.2,839.7 1131.4,840.2 1131.6,840.6 1131.9,841.1 1132.1,841.6 1132.3,841.3 1132.5,840.8 1132.7,840.3 1132.9,839.7 1133.1,839.2 1133.3,838.7 1133.5,838.2 1133.7,837.7 1133.9,837.2 1134.2,836.8 1134.4,836.4 1134.6,835.9 1134.8,835.6 1135.0,835.2 1135.2,834.9 1135.4,834.6 1135.6,834.4 1135.8,834.2 1136.0,834.1 1136.2,834.0 1136.5,833.9 1136.7,833.9 1136.9,834.0 1137.1,834.1 1137.3,834.2 1137.5,834.4 1137.7,834.7 1137.9,835.0 1138.1,835.4 1138.3,835.8 1138.5,836.3 1138.8,836.8 1139.0,837.3 1139.2,837.9 1139.4,838.6 1139.6,839.2 1139.8,839.9 1140.0,840.7 1140.2,841.4 1140.4,841.2 1140.6,840.5 1140.8,839.7 1141.1,838.9 1141.3,838.1 1141.5,837.3 1141.7,836.6 1141.9,835.8 1142.1,835.1 1142.3,834.4 1142.5,833.8 1142.7,833.2 1142.9,832.6 1143.1,832.1 1143.4,831.6 1143.6,831.2 1143.8,830.8 1144.0,830.5 1144.2,830.3 1144.4,830.2 1144.6,830.1 1144.8,830.1 1145.0,830.2 1145.2,830.4 1145.4,830.6 1145.7,830.9 1145.9,831.3 1146.1,831.8 1146.3,832.3 1146.5,832.9 1146.7,833.6 1146.9,834.4 1147.1,835.2 1147.3,836.0 1147.5,836.9 1147.7,837.9 1148.0,838.9 1148.2,840.0 1148.4,841.0 1148.6,841.3 1148.8,840.2 1149.0,839.1 1149.2,837.9 1149.4,836.8 1149.6,835.7 1149.8,834.7 1150.0,833.6 1150.3,832.6 1150.5,831.6 1150.7,830.7 1150.9,829.9 1151.1,829.1 1151.3,828.4 1151.5,827.7 1151.7,827.2 1151.9,826.7 1152.1,826.3 1152.3,826.0 1152.6,825.9 1152.8,825.8 1153.0,825.8 1153.2,825.9 1153.4,826.2 1153.6,826.5 1153.8,826.9 1154.0,827.5 1154.2,828.1 1154.4,828.9 1154.6,829.7 1154.9,830.6 1155.1,831.6 1155.3,832.7 1155.5,833.9 1155.7,835.1 1155.9,836.4 1156.1,837.7 1156.3,839.1 1156.5,840.5 1156.7,841.5 1156.9,840.0 1157.2,838.6 1157.4,837.1 1157.6,835.7 1157.8,834.3 1158.0,832.9 1158.2,831.6 1158.4,830.3 1158.6,829.1 1158.8,827.9 1159.0,826.9 1159.2,825.9 1159.5,825.0 1159.7,824.2 1159.9,823.6 1160.1,823.0 1160.3,822.5 1160.5,822.2 1160.7,822.0 1160.9,821.9 1161.1,822.0 1161.3,822.2 1161.5,822.5 1161.8,822.9 1162.0,823.5 1162.2,824.2 1162.4,825.0 1162.6,825.9 1162.8,826.9 1163.0,828.1 1163.2,829.3 1163.4,830.6 1163.6,832.0 1163.8,833.5 1164.1,835.0 1164.3,836.6 1164.5,838.3 1164.7,839.9 1164.9,841.6 1165.1,840.1 1165.3,838.4 1165.5,836.7 1165.7,835.1 1165.9,833.5 1166.1,831.9 1166.4,830.4 1166.6,828.9 1166.8,827.5 1167.0,826.3 1167.2,825.1 1167.4,824.0 1167.6,823.0 1167.8,822.2 1168.0,821.4 1168.2,820.8 1168.4,820.3 1168.7,820.0 1168.9,819.8 1169.1,819.8 1169.3,819.9 1169.5,820.1 1169.7,820.5 1169.9,821.0 1170.1,821.6 1170.3,822.4 1170.5,823.3 1170.7,824.4 1171.0,825.5 1171.2,826.7 1171.4,828.1 1171.6,829.5 1171.8,831.0 1172.0,832.6 1172.2,834.3 1172.4,836.0 1172.6,837.7 1172.8,839.5 1173.0,841.2 1173.3,840.4 1173.5,838.6 1173.7,836.9 1173.9,835.2 1174.1,833.5 1174.3,831.9 1174.5,830.4 1174.7,828.9 1174.9,827.5 1175.1,826.2 1175.3,825.1 1175.6,824.0 1175.8,823.0 1176.0,822.2 1176.2,821.5 1176.4,820.9 1176.6,820.5 1176.8,820.2 1177.0,820.0 1177.2,820.0 1177.4,820.1 1177.6,820.4 1177.9,820.8 1178.1,821.3 1178.3,822.0 1178.5,822.8 1178.7,823.7 1178.9,824.7 1179.1,825.8 1179.3,827.1 1179.5,828.4 1179.7,829.8 1179.9,831.2 1180.2,832.7 1180.4,834.3 1180.6,835.9 1180.8,837.6 1181.0,839.2 1181.2,840.9 1181.4,840.9 1181.6,839.2 1181.8,837.6 1182.0,836.0 1182.2,834.5 1182.5,833.0 1182.7,831.6 1182.9,830.3 1183.1,829.0 1183.3,827.8 1183.5,826.8 1183.7,825.8 1183.9,825.0 1184.1,824.2 1184.3,823.6 1184.5,823.1 1184.8,822.8 1185.0,822.5 1185.2,822.4 1185.4,822.4 1185.6,822.5 1185.8,822.8 1186.0,823.2 1186.2,823.7 1186.4,824.3 1186.6,825.0 1186.8,825.8 1187.1,826.7 1187.3,827.7 1187.5,828.8 1187.7,829.9 1187.9,831.1 1188.1,832.4 1188.3,833.7 1188.5,835.1 1188.7,836.5 1188.9,837.9 1189.1,839.3 1189.4,840.7 1189.6,841.3 1189.8,839.9 1190.0,838.5 1190.2,837.2 1190.4,835.9 1190.6,834.7 1190.8,833.5 1191.0,832.4 1191.2,831.4 1191.4,830.4 1191.7,829.5 1191.9,828.7 1192.1,828.0 1192.3,827.4 1192.5,826.9 1192.7,826.5 1192.9,826.2 1193.1,826.0 1193.3,826.0 1193.5,826.0 1193.7,826.1 1194.0,826.3 1194.2,826.6 1194.4,827.0 1194.6,827.5 1194.8,828.1 1195.0,828.7 1195.2,829.4 1195.4,830.3 1195.6,831.1 1195.8,832.0 1196.0,833.0 1196.3,834.0 1196.5,835.1 1196.7,836.2 1196.9,837.3 1197.1,838.4 1197.3,839.5 1197.5,840.7 1197.7,841.6 1197.9,840.5 1198.1,839.4 1198.3,838.4 1198.6,837.3 1198.8,836.4 1199.0,835.4 1199.2,834.5 1199.4,833.7 1199.6,832.9 1199.8,832.2 1200.0,831.6 1200.2,831.0 1200.4,830.5 1200.6,830.1 1200.9,829.8 1201.1,829.5 1201.3,829.4 1201.5,829.3 1201.7,829.3 1201.9,829.3 1202.1,829.5 1202.3,829.7 1202.5,830.0 1202.7,830.3 1202.9,830.8 1203.2,831.3 1203.4,831.8 1203.6,832.5 1203.8,833.1 1204.0,833.8 1204.2,834.6 1204.4,835.4 1204.6,836.2 1204.8,837.1 1205.0,838.0 1205.2,838.9 1205.5,839.8 1205.7,840.7 1205.9,841.6 1206.1,840.9 1206.3,840.0 1206.5,839.2 1206.7,838.3 1206.9,837.5 1207.1,836.7 1207.3,836.0 1207.5,835.3 1207.8,834.6 1208.0,834.0 1208.2,833.4 1208.4,832.9 1208.6,832.5 1208.8,832.1 1209.0,831.7 1209.2,831.5 1209.4,831.3 1209.6,831.2 1209.8,831.1 1210.1,831.1 1210.3,831.2 1210.5,831.3 1210.7,831.5 1210.9,831.8 1211.1,832.1 1211.3,832.5 1211.5,832.9 1211.7,833.4 1211.9,834.0 1212.1,834.6 1212.4,835.2 1212.6,835.9 1212.8,836.6 1213.0,837.3 1213.2,838.1 1213.4,838.9 1213.6,839.7 1213.8,840.6 1214.0,841.4 1214.2,841.2 1214.4,840.3 1214.7,839.5 1214.9,838.7 1215.1,837.9 1215.3,837.1 1215.5,836.3 1215.7,835.6 1215.9,834.9 1216.1,834.3 1216.3,833.7 1216.5,833.1 1216.7,832.6 1217.0,832.1 1217.2,831.7 1217.4,831.4 1217.6,831.1 1217.8,830.9 1218.0,830.8 1218.2,830.7 1218.4,830.7 1218.6,830.8 1218.8,830.9 1219.0,831.1 1219.3,831.4 1219.5,831.7 1219.7,832.1 1219.9,832.6 1220.1,833.1 1220.3,833.7 1220.5,834.4 1220.7,835.1 1220.9,835.8 1221.1,836.6 1221.3,837.5 1221.6,838.4 1221.8,839.3 1222.0,840.2 1222.2,841.1 1222.4,841.3 1222.6,840.3 1222.8,839.3 1223.0,838.4 1223.2,837.4 1223.4,836.5 1223.6,835.5 1223.9,834.6 1224.1,833.8 1224.3,832.9 1224.5,832.1 1224.7,831.4 1224.9,830.7 1225.1,830.1 1225.3,829.6 1225.5,829.1 1225.7,828.7 1225.9,828.4 1226.2,828.1 1226.4,828.0 1226.6,827.9 1226.8,827.9 1227.0,828.0 1227.2,828.2 1227.4,828.5 1227.6,828.8 1227.8,829.3 1228.0,829.9 1228.2,830.5 1228.5,831.2 1228.7,832.0 1228.9,832.9 1229.1,833.8 1229.3,834.8 1229.5,835.9 1229.7,837.0 1229.9,838.2 1230.1,839.4 1230.3,840.7 1230.5,841.4 1230.8,840.1 1231.0,838.8 1231.2,837.5 1231.4,836.2 1231.6,834.9 1231.8,833.6 1232.0,832.4 1232.2,831.2 1232.4,830.0 1232.6,828.9 1232.8,827.9 1233.1,827.0 1233.3,826.1 1233.5,825.3 1233.7,824.6 1233.9,824.0 1234.1,823.5 1234.3,823.1 1234.5,822.8 1234.7,822.7 1234.9,822.7 1235.1,822.7 1235.4,823.0 1235.6,823.3 1235.8,823.8 1236.0,824.4 1236.2,825.1 1236.4,826.0 1236.6,826.9 1236.8,828.0 1237.0,829.2 1237.2,830.5 1237.4,831.8 1237.7,833.3 1237.9,834.9 1238.1,836.5 1238.3,838.2 1238.5,839.9 1238.7,841.7 1238.9,839.9 1239.1,838.1 1239.3,836.3 1239.5,834.5 1239.7,832.6 1240.0,830.9 1240.2,829.1 1240.4,827.4 1240.6,825.8 1240.8,824.3 1241.0,822.8 1241.2,821.5 1241.4,820.2 1241.6,819.1 1241.8,818.1 1242.0,817.3 1242.2,816.5 1242.5,816.0 1242.7,815.6 1242.9,815.4 1243.1,815.3 1243.3,815.4 1243.5,815.7 1243.7,816.1 1243.9,816.8 1244.1,817.6 1244.3,818.5 1244.5,819.7 1244.8,821.0 1245.0,822.5 1245.2,824.1 1245.4,825.8 1245.6,827.7 1245.8,829.7 1246.0,831.8 1246.2,834.0 1246.4,836.3 1246.6,838.7 1246.8,841.1 1247.1,839.8 1247.3,837.3 1247.5,834.8 1247.7,832.4 1247.9,829.9 1248.1,827.5 1248.3,825.1 1248.5,822.8 1248.7,820.6 1248.9,818.5 1249.1,816.5 1249.4,814.7 1249.6,813.0 1249.8,811.5 1250.0,810.1 1250.2,809.0 1250.4,808.0 1250.6,807.2 1250.8,806.7 1251.0,806.4 1251.2,806.3 1251.4,806.4 1251.7,806.8 1251.9,807.4 1252.1,808.2 1252.3,809.2 1252.5,810.5 1252.7,812.0 1252.9,813.8 1253.1,815.7 1253.3,817.8 1253.5,820.1 1253.7,822.6 1254.0,825.2 1254.2,828.0 1254.4,830.9 1254.6,833.9 1254.8,837.1 1255.0,840.2 1255.2,840.0 1255.4,836.7 1255.6,833.4 1255.8,830.2 1256.0,827.0 1256.3,823.8 1256.5,820.7 1256.7,817.8 1256.9,814.9 1257.1,812.2 1257.3,809.6 1257.5,807.2 1257.7,805.0 1257.9,803.1 1258.1,801.3 1258.3,799.8 1258.6,798.6 1258.8,797.6 1259.0,796.9 1259.2,796.4 1259.4,796.3 1259.6,796.5 1259.8,796.9 1260.0,797.7 1260.2,798.7 1260.4,800.1 1260.6,801.7 1260.9,803.6 1261.1,805.8 1261.3,808.2 1261.5,810.9 1261.7,813.8 1261.9,816.9 1262.1,820.2 1262.3,823.7 1262.5,827.4 1262.7,831.1 1262.9,835.0 1263.2,839.0 1263.4,840.4 1263.6,836.4 1263.8,832.3 1264.0,828.3 1264.2,824.3 1264.4,820.4 1264.6,816.6 1264.8,812.9 1265.0,809.3 1265.2,806.0 1265.5,802.8 1265.7,799.9 1265.9,797.2 1266.1,794.8 1266.3,792.7 1266.5,790.8 1266.7,789.3 1266.9,788.1 1267.1,787.2 1267.3,786.7 1267.5,786.6 1267.8,786.8 1268.0,787.3 1268.2,788.2 1268.4,789.5 1268.6,791.1 1268.8,793.1 1269.0,795.4 1269.2,798.0 1269.4,800.9 1269.6,804.1 1269.8,807.5 1270.1,811.3 1270.3,815.2 1270.5,819.4 1270.7,823.7 1270.9,828.2 1271.1,832.8 1271.3,837.4 1271.5,841.2 1271.7,836.4 1271.9,831.6 1272.1,826.9 1272.4,822.2 1272.6,817.6 1272.8,813.2 1273.0,808.8 1273.2,804.7 1273.4,800.8 1273.6,797.1 1273.8,793.7 1274.0,790.6 1274.2,787.8 1274.4,785.3 1274.7,783.2 1274.9,781.4 1275.1,780.0 1275.3,779.0 1275.5,778.4 1275.7,778.3 1275.9,778.5 1276.1,779.1 1276.3,780.2 1276.5,781.6 1276.7,783.5 1277.0,785.7 1277.2,788.3 1277.4,791.3 1277.6,794.6 1277.8,798.2 1278.0,802.1 1278.2,806.3 1278.4,810.8 1278.6,815.5 1278.8,820.3 1279.0,825.4 1279.3,830.5 1279.5,835.8 1279.7,841.1 1279.9,837.0 1280.1,831.6 1280.3,826.4 1280.5,821.1 1280.7,816.0 1280.9,811.1 1281.1,806.3 1281.3,801.7 1281.6,797.4 1281.8,793.4 1282.0,789.6 1282.2,786.2 1282.4,783.1 1282.6,780.4 1282.8,778.0 1283.0,776.1 1283.2,774.6 1283.4,773.5 1283.6,772.9 1283.9,772.7 1284.1,772.9 1284.3,773.6 1284.5,774.7 1284.7,776.3 1284.9,778.3 1285.1,780.7 1285.3,783.5 1285.5,786.7 1285.7,790.3 1285.9,794.2 1286.2,798.4 1286.4,802.9 1286.6,807.6 1286.8,812.6 1287.0,817.8 1287.2,823.1 1287.4,828.6 1287.6,834.2 1287.8,839.8 1288.0,837.9 1288.2,832.3 1288.5,826.7 1288.7,821.2 1288.9,815.9 1289.1,810.7 1289.3,805.7 1289.5,800.9 1289.7,796.4 1289.9,792.1 1290.1,788.2 1290.3,784.7 1290.5,781.5 1290.8,778.6 1291.0,776.2 1291.2,774.2 1291.4,772.7 1291.6,771.6 1291.8,770.9 1292.0,770.7 1292.2,771.0 1292.4,771.7 1292.6,772.8 1292.8,774.4 1293.1,776.5 1293.3,778.9 1293.5,781.8 1293.7,785.0 1293.9,788.7 1294.1,792.6 1294.3,796.9 1294.5,801.4 1294.7,806.2 1294.9,811.3 1295.1,816.5 1295.4,821.9 1295.6,827.4 1295.8,832.9 1296.0,838.6 1296.2,839.2 1296.4,833.6 1296.6,828.0 1296.8,822.5 1297.0,817.2 1297.2,812.0 1297.4,807.1 1297.7,802.3 1297.9,797.9 1298.1,793.7 1298.3,789.9 1298.5,786.3 1298.7,783.2 1298.9,780.4 1299.1,778.1 1299.3,776.1 1299.5,774.6 1299.7,773.5 1300.0,772.9 1300.2,772.7 1300.4,772.9 1300.6,773.6 1300.8,774.7 1301.0,776.3 1301.2,778.3 1301.4,780.6 1301.6,783.4 1301.8,786.5 1302.0,790.0 1302.3,793.8 1302.5,797.9 1302.7,802.2 1302.9,806.8 1303.1,811.6 1303.3,816.6 1303.5,821.7 1303.7,826.9 1303.9,832.2 1304.1,837.6 1304.3,840.5 1304.6,835.2 1304.8,829.9 1305.0,824.8 1305.2,819.8 1305.4,814.9 1305.6,810.3 1305.8,805.9 1306.0,801.7 1306.2,797.8 1306.4,794.2 1306.6,790.9 1306.9,788.0 1307.1,785.4 1307.3,783.2 1307.5,781.4 1307.7,780.0 1307.9,779.0 1308.1,778.4 1308.3,778.3 1308.5,778.5 1308.7,779.1 1308.9,780.2 1309.2,781.6 1309.4,783.4 1309.6,785.6 1309.8,788.1 1310.0,790.9 1310.2,794.1 1310.4,797.5 1310.6,801.2 1310.8,805.2 1311.0,809.3 1311.2,813.7 1311.5,818.1 1311.7,822.7 1311.9,827.4 1312.1,832.2 1312.3,837.0 1312.5,841.7 1312.7,836.9 1312.9,832.2 1313.1,827.7 1313.3,823.2 1313.5,818.9 1313.8,814.8 1314.0,810.8 1314.2,807.1 1314.4,803.7 1314.6,800.5 1314.8,797.7 1315.0,795.1 1315.2,792.8 1315.4,790.9 1315.6,789.3 1315.8,788.1 1316.1,787.2 1316.3,786.7 1316.5,786.6 1316.7,786.8 1316.9,787.3 1317.1,788.2 1317.3,789.4 1317.5,791.0 1317.7,792.9 1317.9,795.1 1318.1,797.5 1318.4,800.2 1318.6,803.2 1318.8,806.4 1319.0,809.7 1319.2,813.3 1319.4,817.0 1319.6,820.8 1319.8,824.7 1320.0,828.7 1320.2,832.8 1320.4,836.8 1320.7,840.9 1320.9,838.5 1321.1,834.6 1321.3,830.7 1321.5,827.0 1321.7,823.3 1321.9,819.9 1322.1,816.6 1322.3,813.5 1322.5,810.6 1322.7,808.0 1323.0,805.6 1323.2,803.4 1323.4,801.5 1323.6,799.9 1323.8,798.6 1324.0,797.6 1324.2,796.9 1324.4,796.5 1324.6,796.3 1324.8,796.5 1325.0,796.9 1325.3,797.7 1325.5,798.7 1325.7,800.0 1325.9,801.5 1326.1,803.3 1326.3,805.3 1326.5,807.5 1326.7,809.9 1326.9,812.5 1327.1,815.2 1327.3,818.1 1327.6,821.1 1327.8,824.2 1328.0,827.3 1328.2,830.6 1328.4,833.8 1328.6,837.1 1328.8,840.3 1329.0,839.9 1329.2,836.7 1329.4,833.6 1329.6,830.6 1329.9,827.7 1330.1,825.0 1330.3,822.3 1330.5,819.9 1330.7,817.6 1330.9,815.5 1331.1,813.6 1331.3,811.9 1331.5,810.4 1331.7,809.1 1331.9,808.1 1332.2,807.3 1332.4,806.7 1332.6,806.4 1332.8,806.3 1333.0,806.4 1333.2,806.8 1333.4,807.3 1333.6,808.1 1333.8,809.1 1334.0,810.3 1334.2,811.7 1334.5,813.2 1334.7,814.9 1334.9,816.8 1335.1,818.8 1335.3,820.9 1335.5,823.1 1335.7,825.4 1335.9,827.8 1336.1,830.2 1336.3,832.7 1336.5,835.1 1336.8,837.6 1337.0,840.1 1337.2,840.8 1337.4,838.4 1337.6,836.1 1337.8,833.8 1338.0,831.6 1338.2,829.5 1338.4,827.5 1338.6,825.7 1338.8,823.9 1339.1,822.4 1339.3,820.9 1339.5,819.6 1339.7,818.5 1339.9,817.6 1340.1,816.8 1340.3,816.2 1340.5,815.8 1340.7,815.5 1340.9,815.4 1341.1,815.5 1341.4,815.8 1341.6,816.2 1341.8,816.8 1342.0,817.5 1342.2,818.4 1342.4,819.4 1342.6,820.5 1342.8,821.8 1343.0,823.1 1343.2,824.6 1343.4,826.1 1343.7,827.8 1343.9,829.4 1344.1,831.2 1344.3,832.9 1344.5,834.7 1344.7,836.5 1344.9,838.4 1345.1,840.2 1345.3,841.5 1345.5,839.7 1345.7,838.0 1346.0,836.4 1346.2,834.8 1346.4,833.3 1346.6,831.8 1346.8,830.5 1347.0,829.2 1347.2,828.1 1347.4,827.0 1347.6,826.1 1347.8,825.3 1348.0,824.6 1348.3,824.1 1348.5,823.6 1348.7,823.3 1348.9,823.1 1349.1,823.1 1349.3,823.1 1349.5,823.3 1349.7,823.6 1349.9,824.0 1350.1,824.5 1350.3,825.1 1350.6,825.8 1350.8,826.6 1351.0,827.5 1351.2,828.4 1351.4,829.5 1351.6,830.5 1351.8,831.7 1352.0,832.9 1352.2,834.1 1352.4,835.3 1352.6,836.6 1352.9,837.8 1353.1,839.1 1353.3,840.4 1353.5,841.6 1353.7,840.6 1353.9,839.4 1354.1,838.2 1354.3,837.1 1354.5,836.1 1354.7,835.1 1354.9,834.1 1355.2,833.3 1355.4,832.5 1355.6,831.8 1355.8,831.1 1356.0,830.5 1356.2,830.1 1356.4,829.7 1356.6,829.4 1356.8,829.1 1357.0,829.0 1357.2,828.9 1357.5,829.0 1357.7,829.1 1357.9,829.3 1358.1,829.5 1358.3,829.9 1358.5,830.3 1358.7,830.8 1358.9,831.3 1359.1,831.9 1359.3,832.5 1359.5,833.2 1359.8,834.0 1360.0,834.7 1360.2,835.5 1360.4,836.3 1360.6,837.2 1360.8,838.0 1361.0,838.9 1361.2,839.8 1361.4,840.6 1361.6,841.4 1361.8,841.1 1362.1,840.3 1362.3,839.5 1362.5,838.8 1362.7,838.1 1362.9,837.4 1363.1,836.7 1363.3,836.2 1363.5,835.6 1363.7,835.1 1363.9,834.7 1364.1,834.3 1364.4,833.9 1364.6,833.7 1364.8,833.5 1365.0,833.3 1365.2,833.2 1365.4,833.1" fill="none" stroke="#f07878" stroke-width="1" /><line x1="1292" y1="773" x2="1292" y2="846" stroke="#1a5fb4" stroke-width="2" stroke-dasharray="5,3"/><line x1="1292" y1="773" x2="1372" y2="773" stroke="#1a5fb4" stroke-width="2" stroke-dasharray="5,3"/><circle cx="1292" cy="773" r="3.8" fill="#e81818"/><text x="1385" y="779" font-family="'Liberation Serif', serif" font-size="20" font-weight="bold" font-style="italic" fill="#e81818" text-anchor="start" >A</text><text x="1286.5" y="862" font-family="'Liberation Serif', serif" font-size="20" font-weight="bold" font-style="italic" fill="#e81818" text-anchor="start" >t</text><text x="1092.5" y="753.3" font-family="'Liberation Serif', serif" font-size="24" font-weight="normal" font-style="normal" fill="#000" text-anchor="start" >Max Amplitude</text><line x1="1250.6" y1="750.2" x2="1280" y2="762" stroke="#000" stroke-width="3" stroke-dasharray="2.5,2.5"/><polygon points="1290.0,766.2 1275.0,766.1 1279.1,755.9" fill="#000" stroke="none" stroke-width="1" /><text x="1222.9" y="887.4" font-family="'Liberation Serif', serif" font-size="24" font-weight="normal" font-style="normal" fill="#000" text-anchor="start" >Arrival moment</text><text x="1400.5" y="834.2" font-family="'Liberation Serif', serif" font-size="20" font-weight="bold" font-style="italic" fill="#000" text-anchor="start" >d</text><text x="1417" y="834.2" font-family="'Liberation Serif', serif" font-size="18" font-weight="normal" font-style="normal" fill="#000" text-anchor="start" >=</text><line x1="1429.2" y1="828.9" x2="1493" y2="828.9" stroke="#000" stroke-width="1.2" /><text x="1430" y="822.5" font-family="'Liberation Serif', serif" font-size="20" font-weight="bold" font-style="italic" fill="#000" text-anchor="start" >c</text><text x="1440" y="823.5" font-family="'Liberation Serif', serif" font-size="22" font-weight="normal" font-style="normal" fill="#000" text-anchor="start" >(</text><text x="1448" y="822.5" font-family="'Liberation Serif', serif" font-size="20" font-weight="bold" font-style="italic" fill="#000" text-anchor="start" >t</text><text x="1457" y="822.5" font-family="'Liberation Serif', serif" font-size="18" font-weight="normal" font-style="normal" fill="#000" text-anchor="start" >+</text><text x="1470" y="822.5" font-family="'Liberation Serif', serif" font-size="20" font-weight="bold" font-style="italic" fill="#000" text-anchor="start" >t</text><text x="1476" y="826" font-family="'Liberation Serif', serif" font-size="11" font-weight="bold" font-style="italic" fill="#000" text-anchor="start" >G</text><text x="1486" y="823.5" font-family="'Liberation Serif', serif" font-size="22" font-weight="normal" font-style="normal" fill="#000" text-anchor="start" >)</text><text x="1456" y="848" font-family="'Liberation Serif', serif" font-size="18" font-weight="normal" font-style="normal" fill="#000" text-anchor="start" >2</text><text x="1780.7" y="447.6" font-family="'Liberation Serif', serif" font-size="28" font-weight="bold" font-style="normal" fill="#000" text-anchor="start" >(d) StreakNet</text><text x="1780.7" y="481" font-family="'Liberation Serif', serif" font-size="28" font-weight="bold" font-style="normal" fill="#000" text-anchor="start" >Results</text><text x="1861.5" y="532.8" font-family="'Liberation Serif', serif" font-size="24" font-weight="normal" font-style="normal" fill="#000" text-anchor="start" >2D Result</text><text x="1860.9" y="754.3" font-family="'Liberation Serif', serif" font-size="24" font-weight="normal" font-style="normal" fill="#000" text-anchor="start" >3D Result</text><polygon points="1903.7,624.7 1917.1,563.8 1896.3,561.6 1896.7,624.0" fill="#46317b" stroke="none" stroke-width="1" /><polygon points="1905.1,627.7 1949.8,588.5 1934.2,574.5 1899.9,623.0" fill="#46317b" stroke="none" stroke-width="1" /><polygon points="1904.4,630.9 1961.7,625.9 1957.3,605.3 1903.0,624.0" fill="#46317b" stroke="none" stroke-width="1" /><polygon points="1902.0,633.1 1951.3,662.7 1959.8,643.5 1904.9,626.7" fill="#46317b" stroke="none" stroke-width="1" /><polygon points="1898.8,633.5 1921.7,687.2 1939.9,676.7 1904.8,630.0" fill="#46317b" stroke="none" stroke-width="1" /><polygon points="1895.9,631.9 1882.7,690.9 1903.6,693.0 1902.9,632.6" fill="#46317b" stroke="none" stroke-width="1" /><polygon points="1894.5,628.9 1850.5,667.3 1866.1,681.4 1899.7,633.6" fill="#46317b" stroke="none" stroke-width="1" /><polygon points="1895.2,625.7 1837.9,630.7 1842.3,651.3 1896.6,632.6" fill="#46317b" stroke="none" stroke-width="1" /><polygon points="1897.6,623.5 1848.3,593.9 1839.8,613.1 1894.7,629.9" fill="#46317b" stroke="none" stroke-width="1" /><polygon points="1900.8,623.1 1877.4,568.5 1859.2,579.0 1894.8,626.6" fill="#46317b" stroke="none" stroke-width="1" /><clipPath id="cStar"><polygon points="1902.4,624.6 1915.0,565.5 1897.9,563.8 1898.0,624.1" fill="none" stroke="none" stroke-width="1" /><polygon points="1904.1,626.8 1947.0,588.7 1934.2,577.2 1900.8,623.9" fill="none" stroke="none" stroke-width="1" /><polygon points="1904.2,629.6 1959.3,624.4 1955.7,607.6 1903.3,625.3" fill="none" stroke="none" stroke-width="1" /><polygon points="1902.6,631.9 1950.2,660.2 1957.2,644.4 1904.3,627.9" fill="none" stroke="none" stroke-width="1" /><polygon points="1899.9,632.9 1922.4,684.6 1937.2,676.0 1903.7,630.7" fill="none" stroke="none" stroke-width="1" /><polygon points="1897.2,632.0 1884.8,689.1 1901.9,690.9 1901.6,632.5" fill="none" stroke="none" stroke-width="1" /><polygon points="1895.5,629.8 1853.3,667.1 1866.0,678.6 1898.8,632.7" fill="none" stroke="none" stroke-width="1" /><polygon points="1895.4,627.0 1840.3,632.2 1843.9,649.0 1896.3,631.3" fill="none" stroke="none" stroke-width="1" /><polygon points="1897.0,624.7 1849.4,596.4 1842.4,612.2 1895.3,628.7" fill="none" stroke="none" stroke-width="1" /><polygon points="1899.7,623.7 1876.7,571.2 1861.9,579.8 1895.9,625.9" fill="none" stroke="none" stroke-width="1" /></clipPath><polygon points="1902.4,624.6 1915.0,565.5 1897.9,563.8 1898.0,624.1" fill="url(#gStar)" stroke="none" stroke-width="1" /><polygon points="1904.1,626.8 1947.0,588.7 1934.2,577.2 1900.8,623.9" fill="url(#gStar)" stroke="none" stroke-width="1" /><polygon points="1904.2,629.6 1959.3,624.4 1955.7,607.6 1903.3,625.3" fill="url(#gStar)" stroke="none" stroke-width="1" /><polygon points="1902.6,631.9 1950.2,660.2 1957.2,644.4 1904.3,627.9" fill="url(#gStar)" stroke="none" stroke-width="1" /><polygon points="1899.9,632.9 1922.4,684.6 1937.2,676.0 1903.7,630.7" fill="url(#gStar)" stroke="none" stroke-width="1" /><polygon points="1897.2,632.0 1884.8,689.1 1901.9,690.9 1901.6,632.5" fill="url(#gStar)" stroke="none" stroke-width="1" /><polygon points="1895.5,629.8 1853.3,667.1 1866.0,678.6 1898.8,632.7" fill="url(#gStar)" stroke="none" stroke-width="1" /><polygon points="1895.4,627.0 1840.3,632.2 1843.9,649.0 1896.3,631.3" fill="url(#gStar)" stroke="none" stroke-width="1" /><polygon points="1897.0,624.7 1849.4,596.4 1842.4,612.2 1895.3,628.7" fill="url(#gStar)" stroke="none" stroke-width="1" /><polygon points="1899.7,623.7 1876.7,571.2 1861.9,579.8 1895.9,625.9" fill="url(#gStar)" stroke="none" stroke-width="1" /><circle cx="1899.8" cy="628.3" r="11" fill="#2fa884"/><g clip-path="url(#cStar)"><ellipse cx="1853.8" cy="632.3" rx="16" ry="9" fill="#c4e03c" opacity="0.55"/><ellipse cx="1869.8" cy="613.3" rx="13" ry="7" fill="#8cd050" opacity="0.45" transform="rotate(27 1869.8 613.3)"/><ellipse cx="1917.8" cy="600.3" rx="9" ry="6" fill="#6cc860" opacity="0.35"/></g><circle cx="1899.8" cy="628.3" r="2.2" fill="#fff" stroke="#46307a" stroke-width="1"/><polygon points="1830.6,813.0 1885.3,774.0 1885.3,843.0 1833.2,881.8" fill="#f3f3f3" stroke="#d6d6d6" stroke-width="0.8" /><polygon points="1885.3,774.0 1976.2,794.4 1973.5,861.5 1885.3,843.0" fill="#f6f6f6" stroke="#d6d6d6" stroke-width="0.8" /><polygon points="1833.2,881.8 1885.3,843.0 1973.5,861.5 1924.0,911.8" fill="#efefef" stroke="#d6d6d6" stroke-width="0.8" /><line x1="1841.5" y1="805.2" x2="1843.6" y2="874.0" stroke="#d6d6d6" stroke-width="0.9" /><line x1="1831.1" y1="826.8" x2="1885.3" y2="787.8" stroke="#d6d6d6" stroke-width="0.9" /><line x1="1852.5" y1="797.4" x2="1854.0" y2="866.3" stroke="#d6d6d6" stroke-width="0.9" /><line x1="1831.6" y1="840.5" x2="1885.3" y2="801.6" stroke="#d6d6d6" stroke-width="0.9" /><line x1="1863.4" y1="789.6" x2="1864.5" y2="858.5" stroke="#d6d6d6" stroke-width="0.9" /><line x1="1832.2" y1="854.3" x2="1885.3" y2="815.4" stroke="#d6d6d6" stroke-width="0.9" /><line x1="1874.4" y1="781.8" x2="1874.9" y2="850.8" stroke="#d6d6d6" stroke-width="0.9" /><line x1="1832.7" y1="868.0" x2="1885.3" y2="829.2" stroke="#d6d6d6" stroke-width="0.9" /><line x1="1903.5" y1="778.1" x2="1902.9" y2="846.7" stroke="#d6d6d6" stroke-width="0.9" /><line x1="1885.3" y1="787.8" x2="1975.7" y2="807.8" stroke="#d6d6d6" stroke-width="0.9" /><line x1="1921.7" y1="782.2" x2="1920.6" y2="850.4" stroke="#d6d6d6" stroke-width="0.9" /><line x1="1885.3" y1="801.6" x2="1975.1" y2="821.2" stroke="#d6d6d6" stroke-width="0.9" /><line x1="1939.8" y1="786.2" x2="1938.2" y2="854.1" stroke="#d6d6d6" stroke-width="0.9" /><line x1="1885.3" y1="815.4" x2="1974.6" y2="834.7" stroke="#d6d6d6" stroke-width="0.9" /><line x1="1958.0" y1="790.3" x2="1955.9" y2="857.8" stroke="#d6d6d6" stroke-width="0.9" /><line x1="1885.3" y1="829.2" x2="1974.0" y2="848.1" stroke="#d6d6d6" stroke-width="0.9" /><line x1="1843.6" y1="874.0" x2="1933.9" y2="901.7" stroke="#d6d6d6" stroke-width="0.9" /><line x1="1851.4" y1="887.8" x2="1902.9" y2="846.7" stroke="#d6d6d6" stroke-width="0.9" /><line x1="1854.0" y1="866.3" x2="1943.8" y2="891.7" stroke="#d6d6d6" stroke-width="0.9" /><line x1="1869.5" y1="893.8" x2="1920.6" y2="850.4" stroke="#d6d6d6" stroke-width="0.9" /><line x1="1864.5" y1="858.5" x2="1953.7" y2="881.6" stroke="#d6d6d6" stroke-width="0.9" /><line x1="1887.7" y1="899.8" x2="1938.2" y2="854.1" stroke="#d6d6d6" stroke-width="0.9" /><line x1="1874.9" y1="850.8" x2="1963.6" y2="871.6" stroke="#d6d6d6" stroke-width="0.9" /><line x1="1905.8" y1="905.8" x2="1955.9" y2="857.8" stroke="#d6d6d6" stroke-width="0.9" /><polyline points="1833.2,881.8 1924.0,911.8 1973.5,861.5" fill="none" stroke="#aaa" stroke-width="1" /><polyline points="1973.5,861.5 1976.2,794.4" fill="none" stroke="#aaa" stroke-width="1" /><g transform="translate(1915.3 830.6) rotate(10) scale(1 0.62)"><polygon points="2.3,-2.8 11.7,-40.0 -3.2,-41.6 -1.7,-3.2" fill="#44095d" stroke="none" stroke-width="1" /><polygon points="3.5,-0.9 33.0,-25.5 21.9,-35.5 0.5,-3.6" fill="#44095d" stroke="none" stroke-width="1" /><polygon points="3.4,1.3 41.7,-1.2 38.5,-15.9 2.5,-2.6" fill="#44095d" stroke="none" stroke-width="1" /><polygon points="1.9,3.0 34.4,23.5 40.5,9.8 3.6,-0.6" fill="#44095d" stroke="none" stroke-width="1" /><polygon points="-0.2,3.6 14.0,39.3 27.0,31.8 3.2,1.6" fill="#44095d" stroke="none" stroke-width="1" /><polygon points="-2.3,2.8 -11.7,40.0 3.2,41.6 1.7,3.2" fill="#44095d" stroke="none" stroke-width="1" /><polygon points="-3.5,0.9 -33.0,25.5 -21.9,35.5 -0.5,3.6" fill="#44095d" stroke="none" stroke-width="1" /><polygon points="-3.4,-1.3 -41.7,1.2 -38.5,15.9 -2.5,2.6" fill="#44095d" stroke="none" stroke-width="1" /><polygon points="-1.9,-3.0 -34.4,-23.5 -40.5,-9.8 -3.6,0.6" fill="#44095d" stroke="none" stroke-width="1" /><polygon points="0.2,-3.6 -14.0,-39.3 -27.0,-31.8 -3.2,-1.6" fill="#44095d" stroke="none" stroke-width="1" /><circle cx="0" cy="0" r="6" fill="#44095d"/></g><text x="1839" y="830" font-family="'Liberation Serif', serif" font-size="21" font-weight="normal" font-style="italic" fill="#000" text-anchor="start" transform="rotate(90 1839 830)" >2048</text><text x="1866" y="911" font-family="'Liberation Serif', serif" font-size="24" font-weight="normal" font-style="italic" fill="#000" text-anchor="start" transform="rotate(24 1866 911)" >N</text><text x="1940" y="918" font-family="'Liberation Serif', serif" font-size="22" font-weight="normal" font-style="italic" fill="#000" text-anchor="start" transform="rotate(-50 1940 918)" >distance</text>
<rect x="21.5" y="11.5" width="2026.0" height="392.0" fill="none" stroke="#0b2d5b" stroke-width="3" stroke-dasharray="8.5,3.5"/><rect x="21.5" y="419.5" width="666.0" height="517.0" fill="none" stroke="#0b2d5b" stroke-width="3" stroke-dasharray="8.5,3.5"/><rect x="702.5" y="419.5" width="1026.0" height="518.0" fill="none" stroke="#0b2d5b" stroke-width="3" stroke-dasharray="8.5,3.5"/><rect x="1744.5" y="420.5" width="303.0" height="517.0" fill="none" stroke="#0b2d5b" stroke-width="3" stroke-dasharray="8.5,3.5"/>
</svg></body></html>
